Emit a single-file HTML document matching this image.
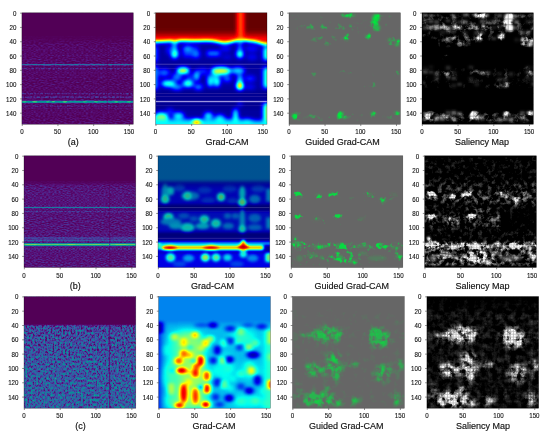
<!DOCTYPE html>
<html><head><meta charset="utf-8"><title>Grad-CAM figure</title>
<style>html,body{margin:0;padding:0;background:#fff}svg{display:block}text{font-family:"Liberation Sans",Arial,sans-serif;fill:#222}.t{font-size:7.2px;fill:#111;stroke:#111;stroke-width:0.12px}.l{font-size:9px;fill:#111;stroke:#111;stroke-width:0.15px}</style></head><body>
<svg width="550" height="438" viewBox="0 0 550 438">
<rect width="550" height="438" fill="#fff"/>
<defs>
<clipPath id="cp00"><rect x="0" y="0" width="156" height="156"/></clipPath>
<clipPath id="cp01"><rect x="0" y="0" width="156" height="156"/></clipPath>
<clipPath id="cp02"><rect x="0" y="0" width="156" height="156"/></clipPath>
<clipPath id="cp03"><rect x="0" y="0" width="156" height="156"/></clipPath>
<clipPath id="cp10"><rect x="0" y="0" width="156" height="156"/></clipPath>
<clipPath id="cp11"><rect x="0" y="0" width="156" height="156"/></clipPath>
<clipPath id="cp12"><rect x="0" y="0" width="156" height="156"/></clipPath>
<clipPath id="cp13"><rect x="0" y="0" width="156" height="156"/></clipPath>
<clipPath id="cp20"><rect x="0" y="0" width="156" height="156"/></clipPath>
<clipPath id="cp21"><rect x="0" y="0" width="156" height="156"/></clipPath>
<clipPath id="cp22"><rect x="0" y="0" width="156" height="156"/></clipPath>
<clipPath id="cp23"><rect x="0" y="0" width="156" height="156"/></clipPath>
</defs>
<g transform="translate(21.90,12.80) scale(0.7141,0.7145)" clip-path="url(#cp00)">
<filter id="sc00" filterUnits="userSpaceOnUse" x="0" y="0" width="156" height="156" color-interpolation-filters="sRGB"><feComponentTransfer><feFuncR type="table" tableValues="0.322 0.327 0.333 0.339 0.345 0.333 0.322 0.310 0.298 0.280 0.263 0.245 0.227 0.200 0.173 0.145 0.118 0.088 0.059 0.029 0.000 0.020 0.039 0.059 0.078 0.118 0.157 0.196 0.235 0.294 0.353 0.412 0.471 0.539 0.608 0.676 0.745 0.807 0.869 0.930 0.992"/><feFuncG type="table" tableValues="0.000 0.014 0.027 0.041 0.055 0.090 0.125 0.161 0.196 0.230 0.265 0.299 0.333 0.368 0.402 0.436 0.471 0.500 0.529 0.559 0.588 0.608 0.627 0.647 0.667 0.691 0.716 0.740 0.765 0.784 0.804 0.824 0.843 0.853 0.863 0.873 0.882 0.888 0.894 0.900 0.906"/><feFuncB type="table" tableValues="0.341 0.372 0.402 0.432 0.463 0.494 0.525 0.557 0.588 0.603 0.618 0.632 0.647 0.642 0.637 0.632 0.627 0.618 0.608 0.598 0.588 0.578 0.569 0.559 0.549 0.529 0.510 0.490 0.471 0.441 0.412 0.382 0.353 0.314 0.275 0.235 0.196 0.183 0.171 0.158 0.145"/></feComponentTransfer></filter><filter id="sn00" filterUnits="userSpaceOnUse" x="0" y="0" width="156" height="156" color-interpolation-filters="sRGB"><feTurbulence type="fractalNoise" baseFrequency="0.3 0.75" numOctaves="1" seed="3"/><feColorMatrix type="matrix" values="0.360 0 0 0 -0.130  0.360 0 0 0 -0.130  0.360 0 0 0 -0.130  0 0 0 0 1"/></filter><linearGradient id="sg00" gradientUnits="userSpaceOnUse" x1="0" y1="33.0" x2="0" y2="45.0"><stop offset="0" stop-color="#000" stop-opacity="1"/><stop offset="1" stop-color="#000" stop-opacity="0"/></linearGradient><g filter="url(#sc00)"><rect width="156" height="156" fill="#000"/><rect x="0" y="0" width="156" height="156" fill="#fff" filter="url(#sn00)"/><rect x="0" y="0" width="156" height="33.0" fill="#000"/><rect x="0" y="33.0" width="156" height="12.0" fill="url(#sg00)"/><rect x="0" y="71.80" width="156" height="1.60" fill="#fff" fill-opacity="0.22"/><path d="M-1.7,72.60H156" stroke="#fff" stroke-opacity="0.14" stroke-width="1.60" stroke-dasharray="4 1.2 6 1.5 2.5 1 7 1.3 3 1.6 5 1" fill="none"/><rect x="0" y="71.10" width="156" height="3.00" fill="#fff" fill-opacity="0.07"/><path d="M-5.1,78.40H156" stroke="#fff" stroke-opacity="0.20" stroke-width="1.50" stroke-dasharray="3 1.5 2 1 5 2 2.5 1.2 4 1.8" fill="none"/><path d="M-6.8,113.40H156" stroke="#fff" stroke-opacity="0.20" stroke-width="1.50" stroke-dasharray="3 1.5 2 1 5 2 2.5 1.2 4 1.8" fill="none"/><path d="M-8.5,118.00H156" stroke="#fff" stroke-opacity="0.22" stroke-width="1.50" stroke-dasharray="4 1.2 6 1.5 2.5 1 7 1.3 3 1.6 5 1" fill="none"/><rect x="0" y="123.30" width="156" height="2.60" fill="#fff" fill-opacity="0.40"/><rect x="0" y="122.40" width="156" height="4.40" fill="#fff" fill-opacity="0.14"/><path d="M-13.6,130.40H156" stroke="#fff" stroke-opacity="0.16" stroke-width="1.50" stroke-dasharray="3 1.5 2 1 5 2 2.5 1.2 4 1.8" fill="none"/><path d="M-15.3,60.00H156" stroke="#fff" stroke-opacity="0.08" stroke-width="1.20" stroke-dasharray="3 1.5 2 1 5 2 2.5 1.2 4 1.8" fill="none"/><path d="M-17.0,66.00H156" stroke="#fff" stroke-opacity="0.08" stroke-width="1.20" stroke-dasharray="4 1.2 6 1.5 2.5 1 7 1.3 3 1.6 5 1" fill="none"/><path d="M-18.7,84.00H156" stroke="#fff" stroke-opacity="0.07" stroke-width="1.20" stroke-dasharray="3 1.5 2 1 5 2 2.5 1.2 4 1.8" fill="none"/><path d="M-20.4,134.00H156" stroke="#fff" stroke-opacity="0.08" stroke-width="1.20" stroke-dasharray="4 1.2 6 1.5 2.5 1 7 1.3 3 1.6 5 1" fill="none"/><path d="M-22.1,52.00H156" stroke="#fff" stroke-opacity="0.06" stroke-width="1.20" stroke-dasharray="4 1.2 6 1.5 2.5 1 7 1.3 3 1.6 5 1" fill="none"/><path d="M-23.8,90.00H156" stroke="#fff" stroke-opacity="0.06" stroke-width="1.20" stroke-dasharray="3 1.5 2 1 5 2 2.5 1.2 4 1.8" fill="none"/><path d="M-25.5,140.00H156" stroke="#fff" stroke-opacity="0.06" stroke-width="1.20" stroke-dasharray="3 1.5 2 1 5 2 2.5 1.2 4 1.8" fill="none"/><ellipse cx="3.0" cy="124.6" rx="3.0" ry="1.2" fill="#fff" fill-opacity="0.30"/><ellipse cx="18.0" cy="124.6" rx="4.0" ry="1.2" fill="#fff" fill-opacity="0.45"/><ellipse cx="36.0" cy="124.6" rx="2.5" ry="1.2" fill="#fff" fill-opacity="0.30"/><ellipse cx="44.0" cy="124.6" rx="2.5" ry="1.2" fill="#fff" fill-opacity="0.35"/><ellipse cx="60.0" cy="124.6" rx="3.5" ry="1.2" fill="#fff" fill-opacity="0.45"/><ellipse cx="88.0" cy="124.6" rx="3.0" ry="1.2" fill="#fff" fill-opacity="0.30"/><ellipse cx="104.0" cy="124.6" rx="3.0" ry="1.2" fill="#fff" fill-opacity="0.30"/><ellipse cx="132.0" cy="124.6" rx="3.0" ry="1.2" fill="#fff" fill-opacity="0.35"/><ellipse cx="150.0" cy="124.6" rx="3.0" ry="1.2" fill="#fff" fill-opacity="0.30"/><rect x="118.9" y="33.0" width="1.3" height="123.0" fill="#000" fill-opacity="0.55"/></g>
</g>
<rect x="21.90" y="12.80" width="111.40" height="111.46" fill="none" stroke="#000" stroke-opacity="0.55" stroke-width="0.5"/>
<text class="t" transform="translate(16.40,15.76) scale(0.86,1)" text-anchor="end">0</text>
<text class="t" transform="translate(16.40,30.05) scale(0.86,1)" text-anchor="end">20</text>
<text class="t" transform="translate(16.40,44.34) scale(0.86,1)" text-anchor="end">40</text>
<text class="t" transform="translate(16.40,58.63) scale(0.86,1)" text-anchor="end">60</text>
<text class="t" transform="translate(16.40,72.92) scale(0.86,1)" text-anchor="end">80</text>
<text class="t" transform="translate(16.40,87.21) scale(0.86,1)" text-anchor="end">100</text>
<text class="t" transform="translate(16.40,101.50) scale(0.86,1)" text-anchor="end">120</text>
<text class="t" transform="translate(16.40,115.79) scale(0.86,1)" text-anchor="end">140</text>
<text class="t" transform="translate(21.86,134.26) scale(0.86,1)" text-anchor="middle">0</text>
<text class="t" transform="translate(57.56,134.26) scale(0.86,1)" text-anchor="middle">50</text>
<text class="t" transform="translate(93.27,134.26) scale(0.86,1)" text-anchor="middle">100</text>
<text class="t" transform="translate(128.97,134.26) scale(0.86,1)" text-anchor="middle">150</text>
<path d="M21.90 13.16h-1.8M21.90 27.45h-1.8M21.90 41.74h-1.8M21.90 56.03h-1.8M21.90 70.32h-1.8M21.90 84.61h-1.8M21.90 98.90h-1.8M21.90 113.19h-1.8M22.26 124.26v1.8M57.96 124.26v1.8M93.67 124.26v1.8M129.37 124.26v1.8" stroke="#222" stroke-width="0.5" fill="none"/>
<text class="l" x="67.80" y="145.26">(a)</text>
<g transform="translate(155.60,12.80) scale(0.7141,0.7145)" clip-path="url(#cp01)">
<linearGradient id="g01" gradientUnits="userSpaceOnUse" x1="0" y1="25" x2="0" y2="36"><stop offset="0" stop-color="rgb(255,255,255)"/><stop offset="0.5" stop-color="rgb(242,242,242)"/><stop offset="1" stop-color="rgb(224,224,224)"/></linearGradient><filter id="f01" filterUnits="userSpaceOnUse" x="-30" y="-30" width="216" height="216" color-interpolation-filters="sRGB"><feGaussianBlur stdDeviation="3.0"/><feComponentTransfer><feFuncR type="table" tableValues="0.000 0.000 0.000 0.000 0.000 0.000 0.000 0.000 0.000 0.000 0.000 0.000 0.000 0.000 0.000 0.000 0.000 0.000 0.000 0.000 0.000 0.000 0.000 0.000 0.000 0.062 0.125 0.188 0.250 0.312 0.375 0.438 0.500 0.562 0.625 0.688 0.750 0.812 0.875 0.938 1.000 1.000 1.000 1.000 1.000 1.000 1.000 1.000 1.000 1.000 1.000 1.000 1.000 1.000 1.000 1.000 1.000 0.997 0.911 0.826 0.741 0.656 0.570 0.485 0.400"/><feFuncG type="table" tableValues="0.000 0.000 0.000 0.000 0.000 0.000 0.000 0.000 0.000 0.062 0.125 0.188 0.250 0.312 0.375 0.438 0.500 0.562 0.625 0.688 0.750 0.812 0.875 0.938 1.000 1.000 1.000 1.000 1.000 1.000 1.000 1.000 1.000 1.000 1.000 1.000 1.000 1.000 1.000 1.000 1.000 0.938 0.875 0.812 0.750 0.688 0.625 0.562 0.500 0.438 0.375 0.312 0.250 0.188 0.125 0.062 0.000 0.000 0.000 0.000 0.000 0.000 0.000 0.000 0.000"/><feFuncB type="table" tableValues="0.500 0.562 0.625 0.688 0.750 0.812 0.875 0.938 1.000 1.000 1.000 1.000 1.000 1.000 1.000 1.000 1.000 1.000 1.000 1.000 1.000 1.000 1.000 1.000 1.000 0.938 0.875 0.812 0.750 0.688 0.625 0.562 0.500 0.438 0.375 0.312 0.250 0.188 0.125 0.062 0.000 0.000 0.000 0.000 0.000 0.000 0.000 0.000 0.000 0.000 0.000 0.000 0.000 0.000 0.000 0.000 0.000 0.000 0.000 0.000 0.000 0.000 0.000 0.000 0.000"/></feComponentTransfer></filter><g filter="url(#f01)"><rect x="-30" y="-30" width="216" height="216" fill="rgb(5,5,5)"/><rect x="-30.0" y="42.0" width="216.0" height="30.0" fill="rgb(8,8,8)"/><rect x="-30.0" y="74.0" width="216.0" height="34.0" fill="rgb(9,9,9)"/><rect x="-30.0" y="134.0" width="216.0" height="40.0" fill="rgb(8,8,8)"/><path d="M-30,-30H186V44.5 L156,44.5 150,43.5 140,40.5 128,39 122,38.5 119,41 116,38.5 112,39.5 104,41.5 96,42.5 90,41.5 80,39.5 70,39 60,39.5 50,39.5 40,39 30,39.5 27,42.5 24,39.5 14,40 6,40.5 0,40.5 -30,40.5Z" fill="url(#g01)"/><rect x="114.0" y="-30.0" width="10.0" height="64.0" fill="rgb(227,227,227)"/><rect x="116.5" y="-30.0" width="5.0" height="68.0" fill="rgb(188,188,188)"/><rect x="-5.0" y="46.0" width="7.0" height="22.0" fill="rgb(70,70,70)"/><ellipse cx="26.6" cy="50.0" rx="2.5" ry="10.0" fill="rgb(117,117,117)"/><ellipse cx="26.6" cy="57.5" rx="4.5" ry="5.5" fill="rgb(145,145,145)"/><rect x="38.0" y="47.0" width="22.0" height="15.0" fill="rgb(47,47,47)"/><ellipse cx="45.0" cy="50.0" rx="6.0" ry="4.0" fill="rgb(80,80,80)"/><ellipse cx="57.0" cy="58.0" rx="5.0" ry="5.0" fill="rgb(70,70,70)"/><ellipse cx="20.0" cy="52.0" rx="5.0" ry="6.0" fill="rgb(42,42,42)"/><rect x="72.0" y="54.0" width="18.0" height="6.0" fill="rgb(80,80,80)"/><ellipse cx="118.0" cy="57.5" rx="4.0" ry="5.0" fill="rgb(155,155,155)"/><ellipse cx="118.0" cy="49.0" rx="2.5" ry="7.0" fill="rgb(84,84,84)"/><rect x="151.0" y="48.0" width="14.0" height="18.0" fill="rgb(117,117,117)"/><ellipse cx="98.0" cy="50.0" rx="8.0" ry="4.0" fill="rgb(38,38,38)"/><ellipse cx="135.0" cy="50.0" rx="10.0" ry="4.0" fill="rgb(38,38,38)"/><ellipse cx="135.0" cy="62.0" rx="8.0" ry="4.0" fill="rgb(33,33,33)"/><ellipse cx="100.0" cy="62.0" rx="8.0" ry="3.0" fill="rgb(28,28,28)"/><ellipse cx="38.5" cy="81.0" rx="8.5" ry="3.6" fill="rgb(188,188,188)"/><ellipse cx="91.5" cy="81.5" rx="9.0" ry="3.4" fill="rgb(255,255,255)"/><ellipse cx="91.5" cy="81.5" rx="14.0" ry="5.0" fill="rgb(164,164,164)"/><ellipse cx="115.0" cy="81.0" rx="10.0" ry="4.0" fill="rgb(99,99,99)"/><rect x="151.0" y="77.0" width="14.0" height="28.0" fill="rgb(117,117,117)"/><ellipse cx="57.5" cy="88.0" rx="3.2" ry="7.0" fill="rgb(108,108,108)"/><ellipse cx="76.7" cy="96.0" rx="3.5" ry="7.0" fill="rgb(122,122,122)"/><ellipse cx="86.0" cy="96.0" rx="3.6" ry="7.0" fill="rgb(129,129,129)"/><ellipse cx="81.0" cy="90.0" rx="9.0" ry="3.5" fill="rgb(89,89,89)"/><ellipse cx="18.0" cy="99.0" rx="10.0" ry="4.0" fill="rgb(129,129,129)"/><ellipse cx="45.5" cy="99.0" rx="7.5" ry="4.5" fill="rgb(129,129,129)"/><ellipse cx="118.0" cy="96.0" rx="3.0" ry="10.0" fill="rgb(117,117,117)"/><ellipse cx="118.0" cy="102.5" rx="3.8" ry="4.4" fill="rgb(255,255,255)"/><rect x="-5.0" y="75.0" width="8.0" height="32.0" fill="rgb(75,75,75)"/><ellipse cx="30.0" cy="104.0" rx="8.0" ry="3.5" fill="rgb(80,80,80)"/><ellipse cx="60.0" cy="104.0" rx="6.0" ry="3.5" fill="rgb(80,80,80)"/><ellipse cx="30.0" cy="90.0" rx="7.0" ry="5.0" fill="rgb(70,70,70)"/><ellipse cx="12.0" cy="84.0" rx="8.0" ry="5.0" fill="rgb(61,61,61)"/><ellipse cx="100.0" cy="92.0" rx="6.0" ry="4.0" fill="rgb(66,66,66)"/><ellipse cx="132.0" cy="92.0" rx="8.0" ry="4.0" fill="rgb(47,47,47)"/><ellipse cx="66.0" cy="82.0" rx="8.0" ry="4.0" fill="rgb(47,47,47)"/><ellipse cx="48.0" cy="90.0" rx="5.0" ry="4.0" fill="rgb(47,47,47)"/><ellipse cx="132.0" cy="104.0" rx="8.0" ry="3.0" fill="rgb(38,38,38)"/><ellipse cx="8.0" cy="147.0" rx="10.0" ry="7.0" fill="rgb(136,136,136)"/><ellipse cx="32.0" cy="144.0" rx="8.0" ry="4.0" fill="rgb(108,108,108)"/><rect x="-5.0" y="149.0" width="125.0" height="15.0" fill="rgb(94,94,94)"/><ellipse cx="57.5" cy="153.0" rx="5.0" ry="3.0" fill="rgb(255,255,255)"/><ellipse cx="74.0" cy="144.0" rx="6.0" ry="4.0" fill="rgb(108,108,108)"/><ellipse cx="90.0" cy="148.0" rx="7.0" ry="5.0" fill="rgb(99,99,99)"/><ellipse cx="112.0" cy="145.0" rx="3.0" ry="11.0" fill="rgb(131,131,131)"/><ellipse cx="128.0" cy="153.0" rx="10.0" ry="3.5" fill="rgb(164,164,164)"/><rect x="151.0" y="127.0" width="14.0" height="36.0" fill="rgb(136,136,136)"/><ellipse cx="118.0" cy="128.0" rx="2.5" ry="2.5" fill="rgb(70,70,70)"/><rect x="100.0" y="151.0" width="60.0" height="10.0" fill="rgb(94,94,94)"/><ellipse cx="20.0" cy="138.0" rx="5.0" ry="4.0" fill="rgb(47,47,47)"/></g><rect x="0" y="71.3" width="156" height="1.3" fill="#b9a0e0" fill-opacity="0.38"/><rect x="0" y="77.5" width="156" height="1.1" fill="#8060c0" fill-opacity="0.25"/><rect x="0" y="112.4" width="156" height="1.2" fill="#8060c0" fill-opacity="0.30"/><rect x="0" y="116.4" width="156" height="1.2" fill="#8060c0" fill-opacity="0.30"/><rect x="0" y="122.8" width="156" height="2.8" fill="#9080e0" fill-opacity="0.35"/><rect x="0" y="123.5" width="156" height="1.4" fill="#e4dcff" fill-opacity="0.62"/><rect x="0" y="129.4" width="156" height="1.2" fill="#8060c0" fill-opacity="0.25"/>
</g>
<rect x="155.60" y="12.80" width="111.40" height="111.46" fill="none" stroke="#000" stroke-opacity="0.55" stroke-width="0.5"/>
<text class="t" transform="translate(150.10,15.76) scale(0.86,1)" text-anchor="end">0</text>
<text class="t" transform="translate(150.10,30.05) scale(0.86,1)" text-anchor="end">20</text>
<text class="t" transform="translate(150.10,44.34) scale(0.86,1)" text-anchor="end">40</text>
<text class="t" transform="translate(150.10,58.63) scale(0.86,1)" text-anchor="end">60</text>
<text class="t" transform="translate(150.10,72.92) scale(0.86,1)" text-anchor="end">80</text>
<text class="t" transform="translate(150.10,87.21) scale(0.86,1)" text-anchor="end">100</text>
<text class="t" transform="translate(150.10,101.50) scale(0.86,1)" text-anchor="end">120</text>
<text class="t" transform="translate(150.10,115.79) scale(0.86,1)" text-anchor="end">140</text>
<text class="t" transform="translate(155.56,134.26) scale(0.86,1)" text-anchor="middle">0</text>
<text class="t" transform="translate(191.26,134.26) scale(0.86,1)" text-anchor="middle">50</text>
<text class="t" transform="translate(226.97,134.26) scale(0.86,1)" text-anchor="middle">100</text>
<text class="t" transform="translate(262.67,134.26) scale(0.86,1)" text-anchor="middle">150</text>
<path d="M155.60 13.16h-1.8M155.60 27.45h-1.8M155.60 41.74h-1.8M155.60 56.03h-1.8M155.60 70.32h-1.8M155.60 84.61h-1.8M155.60 98.90h-1.8M155.60 113.19h-1.8M155.96 124.26v1.8M191.66 124.26v1.8M227.37 124.26v1.8M263.07 124.26v1.8" stroke="#222" stroke-width="0.5" fill="none"/>
<text class="l" x="205.40" y="145.26">Grad-CAM</text>
<g transform="translate(289.00,12.80) scale(0.7141,0.7145)" clip-path="url(#cp02)">
<filter id="sfg0" filterUnits="userSpaceOnUse" x="0" y="0" width="156" height="156" color-interpolation-filters="sRGB"><feTurbulence type="fractalNoise" baseFrequency="0.12 0.12" numOctaves="4" seed="5" result="n"/><feColorMatrix in="n" type="matrix" values="1 0 0 0 0 1 0 0 0 0 1 0 0 0 0 0 0 0 0 1" result="ng"/><feGaussianBlur in="SourceGraphic" stdDeviation="2.2"/><feComponentTransfer result="e"><feFuncR type="gamma" exponent="1.3"/><feFuncG type="gamma" exponent="1.3"/><feFuncB type="gamma" exponent="1.3"/></feComponentTransfer><feComposite in="e" in2="ng" operator="arithmetic" k1="5.000" k2="-1.800" k3="0" k4="0" result="o"/><feComponentTransfer in="o"><feFuncR type="linear" slope="1.300" intercept="-0.286"/><feFuncG type="linear" slope="1.300" intercept="-0.286"/><feFuncB type="linear" slope="1.300" intercept="-0.286"/></feComponentTransfer><feColorMatrix type="matrix" values="-0.4 0 0 0 0.4  0 0.5 0 0 0.4  0 0 -0.15 0 0.4  0 0 0 0 1"/></filter><g filter="url(#sfg0)"><rect x="-30" y="-30" width="216" height="216" fill="rgb(5,5,5)"/><rect x="-8.1" y="75.3" width="172.0" height="31.4" fill="rgb(35,35,35)"/><rect x="-8.1" y="43.9" width="172.0" height="29.6" fill="rgb(18,18,18)"/><rect x="-8.1" y="1.0" width="123.3" height="39.2" fill="rgb(48,48,48)"/><rect x="-8.1" y="1.0" width="172.0" height="24.4" fill="rgb(55,55,55)"/><rect x="-8.1" y="139.3" width="172.0" height="14.8" fill="rgb(66,66,66)"/><ellipse cx="141.5" cy="16.9" rx="14.4" ry="15.9" fill="rgb(61,61,61)"/><ellipse cx="52.4" cy="39.3" rx="24.0" ry="8.3" fill="rgb(77,77,77)"/><rect x="24.7" y="17.3" width="85.0" height="5.9" fill="rgb(121,121,121)"/><ellipse cx="121.5" cy="13.6" rx="5.5" ry="13.3" fill="rgb(255,255,255)"/><ellipse cx="147.0" cy="39.8" rx="9.6" ry="7.0" fill="rgb(136,136,136)"/><ellipse cx="24.1" cy="12.1" rx="22.7" ry="3.0" fill="rgb(88,88,88)"/><ellipse cx="82.0" cy="83.1" rx="15.5" ry="3.7" fill="rgb(99,99,99)"/><ellipse cx="118.6" cy="94.9" rx="4.8" ry="11.8" fill="rgb(88,88,88)"/><ellipse cx="150.4" cy="82.3" rx="6.3" ry="6.7" fill="rgb(110,110,110)"/><ellipse cx="105.6" cy="103.0" rx="14.0" ry="3.0" fill="rgb(88,88,88)"/><ellipse cx="33.5" cy="84.9" rx="12.2" ry="3.3" fill="rgb(99,99,99)"/><ellipse cx="83.8" cy="3.2" rx="11.1" ry="3.0" fill="rgb(164,164,164)"/><ellipse cx="10.6" cy="144.1" rx="5.5" ry="5.5" fill="rgb(255,255,255)"/><ellipse cx="10.6" cy="12.1" rx="9.2" ry="3.0" fill="rgb(132,132,132)"/><ellipse cx="93.0" cy="146.3" rx="8.1" ry="3.3" fill="rgb(110,110,110)"/><ellipse cx="73.5" cy="143.3" rx="5.5" ry="4.8" fill="rgb(255,255,255)"/><ellipse cx="135.2" cy="145.5" rx="9.6" ry="2.6" fill="rgb(99,99,99)"/><ellipse cx="31.7" cy="60.5" rx="6.7" ry="3.3" fill="rgb(61,61,61)"/><ellipse cx="28.4" cy="43.9" rx="7.0" ry="3.0" fill="rgb(110,110,110)"/><ellipse cx="122.3" cy="5.8" rx="4.1" ry="4.8" fill="rgb(255,255,255)"/><ellipse cx="80.5" cy="35.0" rx="3.7" ry="5.2" fill="rgb(217,217,217)"/><ellipse cx="123.0" cy="20.8" rx="4.1" ry="4.6" fill="rgb(255,255,255)"/><ellipse cx="33.9" cy="144.4" rx="4.4" ry="3.7" fill="rgb(110,110,110)"/><ellipse cx="117.1" cy="141.5" rx="4.8" ry="3.0" fill="rgb(255,255,255)"/><ellipse cx="150.4" cy="140.0" rx="4.8" ry="3.0" fill="rgb(230,230,230)"/><ellipse cx="111.2" cy="32.8" rx="4.8" ry="3.0" fill="rgb(242,242,242)"/><ellipse cx="57.0" cy="40.2" rx="4.6" ry="3.0" fill="rgb(99,99,99)"/></g><g filter="url(#hb0)"><ellipse cx="121.0" cy="7.5" rx="4.7" ry="5.5" fill="#00e63c" fill-opacity="0.60"/><ellipse cx="124.0" cy="9.0" rx="3.0" ry="3.4" fill="#00e63c" fill-opacity="0.57"/><ellipse cx="123.0" cy="21.0" rx="4.7" ry="4.2" fill="#00e63c" fill-opacity="0.60"/><ellipse cx="120.5" cy="14.0" rx="3.0" ry="5.1" fill="#00e63c" fill-opacity="0.54"/><ellipse cx="110.5" cy="33.0" rx="3.8" ry="1.5" fill="#00e63c" fill-opacity="0.57"/><ellipse cx="141.0" cy="38.0" rx="1.5" ry="2.2" fill="#00e63c" fill-opacity="0.51"/><ellipse cx="151.5" cy="45.0" rx="2.7" ry="1.5" fill="#00e63c" fill-opacity="0.54"/><ellipse cx="80.0" cy="33.0" rx="1.7" ry="1.7" fill="#00e63c" fill-opacity="0.48"/><ellipse cx="81.0" cy="38.0" rx="1.5" ry="1.5" fill="#00e63c" fill-opacity="0.42"/><ellipse cx="10.5" cy="142.0" rx="2.5" ry="2.1" fill="#00e63c" fill-opacity="0.57"/><ellipse cx="8.0" cy="147.0" rx="2.1" ry="1.7" fill="#00e63c" fill-opacity="0.48"/><ellipse cx="74.0" cy="141.0" rx="2.5" ry="2.1" fill="#00e63c" fill-opacity="0.57"/><ellipse cx="72.0" cy="145.5" rx="2.5" ry="1.7" fill="#00e63c" fill-opacity="0.51"/><ellipse cx="117.0" cy="141.0" rx="2.5" ry="1.9" fill="#00e63c" fill-opacity="0.57"/><ellipse cx="150.0" cy="140.0" rx="2.5" ry="1.7" fill="#00e63c" fill-opacity="0.51"/><ellipse cx="151.0" cy="44.0" rx="2.1" ry="2.1" fill="#00e63c" fill-opacity="0.48"/><ellipse cx="75.0" cy="3.0" rx="2.1" ry="1.5" fill="#00e63c" fill-opacity="0.42"/><ellipse cx="91.0" cy="3.5" rx="2.1" ry="1.5" fill="#00e63c" fill-opacity="0.42"/><ellipse cx="140.0" cy="38.0" rx="1.7" ry="1.7" fill="#00e63c" fill-opacity="0.36"/></g>
</g>
<rect x="289.00" y="12.80" width="111.40" height="111.46" fill="none" stroke="#000" stroke-opacity="0.55" stroke-width="0.5"/>
<text class="t" transform="translate(283.50,15.76) scale(0.86,1)" text-anchor="end">0</text>
<text class="t" transform="translate(283.50,30.05) scale(0.86,1)" text-anchor="end">20</text>
<text class="t" transform="translate(283.50,44.34) scale(0.86,1)" text-anchor="end">40</text>
<text class="t" transform="translate(283.50,58.63) scale(0.86,1)" text-anchor="end">60</text>
<text class="t" transform="translate(283.50,72.92) scale(0.86,1)" text-anchor="end">80</text>
<text class="t" transform="translate(283.50,87.21) scale(0.86,1)" text-anchor="end">100</text>
<text class="t" transform="translate(283.50,101.50) scale(0.86,1)" text-anchor="end">120</text>
<text class="t" transform="translate(283.50,115.79) scale(0.86,1)" text-anchor="end">140</text>
<text class="t" transform="translate(288.96,134.26) scale(0.86,1)" text-anchor="middle">0</text>
<text class="t" transform="translate(324.66,134.26) scale(0.86,1)" text-anchor="middle">50</text>
<text class="t" transform="translate(360.37,134.26) scale(0.86,1)" text-anchor="middle">100</text>
<text class="t" transform="translate(396.07,134.26) scale(0.86,1)" text-anchor="middle">150</text>
<path d="M289.00 13.16h-1.8M289.00 27.45h-1.8M289.00 41.74h-1.8M289.00 56.03h-1.8M289.00 70.32h-1.8M289.00 84.61h-1.8M289.00 98.90h-1.8M289.00 113.19h-1.8M289.36 124.26v1.8M325.06 124.26v1.8M360.77 124.26v1.8M396.47 124.26v1.8" stroke="#222" stroke-width="0.5" fill="none"/>
<text class="l" x="305.20" y="145.26">Guided Grad-CAM</text>
<g transform="translate(422.00,12.80) scale(0.7141,0.7145)" clip-path="url(#cp03)">
<filter id="sfs0" filterUnits="userSpaceOnUse" x="0" y="0" width="156" height="156" color-interpolation-filters="sRGB"><feTurbulence type="fractalNoise" baseFrequency="0.12 0.12" numOctaves="4" seed="5" result="n"/><feColorMatrix in="n" type="matrix" values="1 0 0 0 0 1 0 0 0 0 1 0 0 0 0 0 0 0 0 1" result="ng"/><feGaussianBlur in="SourceGraphic" stdDeviation="2.2"/><feComponentTransfer result="e"><feFuncR type="gamma" exponent="1.3"/><feFuncG type="gamma" exponent="1.3"/><feFuncB type="gamma" exponent="1.3"/></feComponentTransfer><feComposite in="e" in2="ng" operator="arithmetic" k1="5.000" k2="-1.800" k3="0" k4="0" result="o"/><feComponentTransfer in="o"><feFuncR type="linear" slope="1.50" intercept="-0.12"/><feFuncG type="linear" slope="1.50" intercept="-0.12"/><feFuncB type="linear" slope="1.50" intercept="-0.12"/></feComponentTransfer></filter><g filter="url(#sfs0)"><rect x="-30" y="-30" width="216" height="216" fill="rgb(5,5,5)"/><rect x="-8.1" y="75.3" width="172.0" height="31.4" fill="rgb(35,35,35)"/><rect x="-8.1" y="43.9" width="172.0" height="29.6" fill="rgb(18,18,18)"/><rect x="-8.1" y="1.0" width="123.3" height="39.2" fill="rgb(48,48,48)"/><rect x="-8.1" y="1.0" width="172.0" height="24.4" fill="rgb(55,55,55)"/><rect x="-8.1" y="139.3" width="172.0" height="14.8" fill="rgb(66,66,66)"/><ellipse cx="141.5" cy="16.9" rx="14.4" ry="15.9" fill="rgb(61,61,61)"/><ellipse cx="52.4" cy="39.3" rx="24.0" ry="8.3" fill="rgb(77,77,77)"/><rect x="24.7" y="17.3" width="85.0" height="5.9" fill="rgb(121,121,121)"/><ellipse cx="121.5" cy="13.6" rx="5.5" ry="13.3" fill="rgb(255,255,255)"/><ellipse cx="147.0" cy="39.8" rx="9.6" ry="7.0" fill="rgb(136,136,136)"/><ellipse cx="24.1" cy="12.1" rx="22.7" ry="3.0" fill="rgb(88,88,88)"/><ellipse cx="82.0" cy="83.1" rx="15.5" ry="3.7" fill="rgb(99,99,99)"/><ellipse cx="118.6" cy="94.9" rx="4.8" ry="11.8" fill="rgb(88,88,88)"/><ellipse cx="150.4" cy="82.3" rx="6.3" ry="6.7" fill="rgb(110,110,110)"/><ellipse cx="105.6" cy="103.0" rx="14.0" ry="3.0" fill="rgb(88,88,88)"/><ellipse cx="33.5" cy="84.9" rx="12.2" ry="3.3" fill="rgb(99,99,99)"/><ellipse cx="83.8" cy="3.2" rx="11.1" ry="3.0" fill="rgb(164,164,164)"/><ellipse cx="10.6" cy="144.1" rx="5.5" ry="5.5" fill="rgb(255,255,255)"/><ellipse cx="10.6" cy="12.1" rx="9.2" ry="3.0" fill="rgb(132,132,132)"/><ellipse cx="93.0" cy="146.3" rx="8.1" ry="3.3" fill="rgb(110,110,110)"/><ellipse cx="73.5" cy="143.3" rx="5.5" ry="4.8" fill="rgb(255,255,255)"/><ellipse cx="135.2" cy="145.5" rx="9.6" ry="2.6" fill="rgb(99,99,99)"/><ellipse cx="31.7" cy="60.5" rx="6.7" ry="3.3" fill="rgb(61,61,61)"/><ellipse cx="28.4" cy="43.9" rx="7.0" ry="3.0" fill="rgb(110,110,110)"/><ellipse cx="122.3" cy="5.8" rx="4.1" ry="4.8" fill="rgb(255,255,255)"/><ellipse cx="80.5" cy="35.0" rx="3.7" ry="5.2" fill="rgb(217,217,217)"/><ellipse cx="123.0" cy="20.8" rx="4.1" ry="4.6" fill="rgb(255,255,255)"/><ellipse cx="33.9" cy="144.4" rx="4.4" ry="3.7" fill="rgb(110,110,110)"/><ellipse cx="117.1" cy="141.5" rx="4.8" ry="3.0" fill="rgb(255,255,255)"/><ellipse cx="150.4" cy="140.0" rx="4.8" ry="3.0" fill="rgb(230,230,230)"/><ellipse cx="111.2" cy="32.8" rx="4.8" ry="3.0" fill="rgb(242,242,242)"/><ellipse cx="57.0" cy="40.2" rx="4.6" ry="3.0" fill="rgb(99,99,99)"/></g><filter id="cb0" filterUnits="userSpaceOnUse" x="-10" y="-10" width="176" height="176"><feGaussianBlur stdDeviation="1.2"/></filter><g filter="url(#cb0)"><rect x="1" y="2" width="7" height="5" fill="#fff" fill-opacity="0.09"/><rect x="9" y="2" width="7" height="4" fill="#fff" fill-opacity="0.09"/><rect x="41" y="2" width="7" height="6" fill="#fff" fill-opacity="0.21"/><rect x="57" y="1" width="7" height="4" fill="#fff" fill-opacity="0.37"/><rect x="81" y="3" width="7" height="4" fill="#fff" fill-opacity="0.14"/><rect x="105" y="2" width="7" height="4" fill="#fff" fill-opacity="0.33"/><rect x="113" y="1" width="7" height="5" fill="#fff" fill-opacity="0.12"/><rect x="121" y="3" width="7" height="5" fill="#fff" fill-opacity="0.37"/><rect x="129" y="3" width="7" height="5" fill="#fff" fill-opacity="0.13"/><rect x="153" y="2" width="7" height="5" fill="#fff" fill-opacity="0.23"/><rect x="1" y="9" width="7" height="6" fill="#fff" fill-opacity="0.17"/><rect x="9" y="10" width="7" height="4" fill="#fff" fill-opacity="0.30"/><rect x="17" y="10" width="7" height="6" fill="#fff" fill-opacity="0.23"/><rect x="33" y="9" width="7" height="4" fill="#fff" fill-opacity="0.21"/><rect x="49" y="11" width="7" height="4" fill="#fff" fill-opacity="0.18"/><rect x="57" y="10" width="7" height="6" fill="#fff" fill-opacity="0.27"/><rect x="81" y="9" width="7" height="6" fill="#fff" fill-opacity="0.28"/><rect x="89" y="10" width="7" height="6" fill="#fff" fill-opacity="0.13"/><rect x="97" y="10" width="7" height="4" fill="#fff" fill-opacity="0.33"/><rect x="113" y="10" width="7" height="6" fill="#fff" fill-opacity="0.17"/><rect x="129" y="11" width="7" height="4" fill="#fff" fill-opacity="0.47"/><rect x="145" y="10" width="7" height="5" fill="#fff" fill-opacity="0.13"/><rect x="153" y="9" width="7" height="5" fill="#fff" fill-opacity="0.19"/><rect x="1" y="18" width="7" height="6" fill="#fff" fill-opacity="0.20"/><rect x="9" y="18" width="7" height="4" fill="#fff" fill-opacity="0.42"/><rect x="17" y="18" width="7" height="6" fill="#fff" fill-opacity="0.54"/><rect x="25" y="19" width="7" height="6" fill="#fff" fill-opacity="0.11"/><rect x="33" y="19" width="7" height="6" fill="#fff" fill-opacity="0.53"/><rect x="41" y="18" width="7" height="6" fill="#fff" fill-opacity="0.30"/><rect x="49" y="18" width="7" height="4" fill="#fff" fill-opacity="0.27"/><rect x="65" y="18" width="7" height="5" fill="#fff" fill-opacity="0.15"/><rect x="73" y="17" width="7" height="4" fill="#fff" fill-opacity="0.22"/><rect x="97" y="18" width="7" height="5" fill="#fff" fill-opacity="0.10"/><rect x="105" y="17" width="7" height="5" fill="#fff" fill-opacity="0.14"/><rect x="121" y="18" width="7" height="4" fill="#fff" fill-opacity="0.11"/><rect x="129" y="19" width="7" height="4" fill="#fff" fill-opacity="0.29"/><rect x="153" y="18" width="7" height="6" fill="#fff" fill-opacity="0.21"/><rect x="25" y="26" width="7" height="4" fill="#fff" fill-opacity="0.12"/><rect x="33" y="25" width="7" height="4" fill="#fff" fill-opacity="0.14"/><rect x="57" y="26" width="7" height="6" fill="#fff" fill-opacity="0.13"/><rect x="73" y="25" width="7" height="6" fill="#fff" fill-opacity="0.19"/><rect x="81" y="26" width="7" height="4" fill="#fff" fill-opacity="0.19"/><rect x="137" y="25" width="7" height="6" fill="#fff" fill-opacity="0.24"/><rect x="145" y="25" width="7" height="5" fill="#fff" fill-opacity="0.26"/><rect x="97" y="34" width="7" height="4" fill="#fff" fill-opacity="0.20"/><rect x="129" y="35" width="7" height="6" fill="#fff" fill-opacity="0.08"/><rect x="1" y="75" width="7" height="6" fill="#fff" fill-opacity="0.06"/><rect x="9" y="73" width="7" height="6" fill="#fff" fill-opacity="0.06"/><rect x="33" y="74" width="7" height="6" fill="#fff" fill-opacity="0.15"/><rect x="65" y="74" width="7" height="4" fill="#fff" fill-opacity="0.14"/><rect x="145" y="74" width="7" height="6" fill="#fff" fill-opacity="0.09"/><rect x="153" y="74" width="7" height="5" fill="#fff" fill-opacity="0.05"/><rect x="1" y="81" width="7" height="4" fill="#fff" fill-opacity="0.29"/><rect x="9" y="81" width="7" height="4" fill="#fff" fill-opacity="0.19"/><rect x="17" y="83" width="7" height="5" fill="#fff" fill-opacity="0.23"/><rect x="41" y="81" width="7" height="6" fill="#fff" fill-opacity="0.10"/><rect x="81" y="82" width="7" height="4" fill="#fff" fill-opacity="0.27"/><rect x="89" y="82" width="7" height="4" fill="#fff" fill-opacity="0.25"/><rect x="105" y="83" width="7" height="5" fill="#fff" fill-opacity="0.09"/><rect x="121" y="83" width="7" height="6" fill="#fff" fill-opacity="0.13"/><rect x="145" y="81" width="7" height="4" fill="#fff" fill-opacity="0.28"/><rect x="17" y="89" width="7" height="5" fill="#fff" fill-opacity="0.14"/><rect x="33" y="89" width="7" height="4" fill="#fff" fill-opacity="0.08"/><rect x="41" y="89" width="7" height="5" fill="#fff" fill-opacity="0.21"/><rect x="65" y="90" width="7" height="4" fill="#fff" fill-opacity="0.13"/><rect x="105" y="91" width="7" height="4" fill="#fff" fill-opacity="0.14"/><rect x="113" y="91" width="7" height="5" fill="#fff" fill-opacity="0.17"/><rect x="145" y="89" width="7" height="5" fill="#fff" fill-opacity="0.11"/><rect x="153" y="91" width="7" height="4" fill="#fff" fill-opacity="0.16"/><rect x="41" y="99" width="7" height="6" fill="#fff" fill-opacity="0.10"/><rect x="49" y="98" width="7" height="4" fill="#fff" fill-opacity="0.19"/><rect x="73" y="97" width="7" height="6" fill="#fff" fill-opacity="0.09"/><rect x="113" y="97" width="7" height="5" fill="#fff" fill-opacity="0.17"/><rect x="153" y="97" width="7" height="5" fill="#fff" fill-opacity="0.20"/><rect x="1" y="138" width="7" height="4" fill="#fff" fill-opacity="0.10"/><rect x="33" y="137" width="7" height="6" fill="#fff" fill-opacity="0.21"/><rect x="41" y="137" width="7" height="6" fill="#fff" fill-opacity="0.38"/><rect x="49" y="139" width="7" height="5" fill="#fff" fill-opacity="0.35"/><rect x="73" y="138" width="7" height="6" fill="#fff" fill-opacity="0.12"/><rect x="137" y="138" width="7" height="4" fill="#fff" fill-opacity="0.33"/><rect x="145" y="138" width="7" height="4" fill="#fff" fill-opacity="0.12"/><rect x="153" y="138" width="7" height="5" fill="#fff" fill-opacity="0.27"/><rect x="1" y="145" width="7" height="5" fill="#fff" fill-opacity="0.11"/><rect x="17" y="145" width="7" height="6" fill="#fff" fill-opacity="0.48"/><rect x="25" y="145" width="7" height="6" fill="#fff" fill-opacity="0.41"/><rect x="33" y="147" width="7" height="4" fill="#fff" fill-opacity="0.10"/><rect x="41" y="147" width="7" height="4" fill="#fff" fill-opacity="0.40"/><rect x="73" y="147" width="7" height="4" fill="#fff" fill-opacity="0.13"/><rect x="81" y="146" width="7" height="5" fill="#fff" fill-opacity="0.23"/><rect x="105" y="147" width="7" height="6" fill="#fff" fill-opacity="0.35"/><rect x="113" y="147" width="7" height="4" fill="#fff" fill-opacity="0.42"/><rect x="121" y="147" width="7" height="5" fill="#fff" fill-opacity="0.44"/><rect x="137" y="146" width="7" height="6" fill="#fff" fill-opacity="0.15"/></g><filter id="hb0" filterUnits="userSpaceOnUse" x="-10" y="-10" width="176" height="176"><feGaussianBlur stdDeviation="1.2"/></filter><g filter="url(#hb0)"><ellipse cx="121.0" cy="7.5" rx="5.5" ry="6.5" fill="#fff" fill-opacity="1.00"/><ellipse cx="124.0" cy="9.0" rx="3.5" ry="4.0" fill="#fff" fill-opacity="0.95"/><ellipse cx="123.0" cy="21.0" rx="5.5" ry="5.0" fill="#fff" fill-opacity="1.00"/><ellipse cx="120.5" cy="14.0" rx="3.5" ry="6.0" fill="#fff" fill-opacity="0.90"/><ellipse cx="110.5" cy="33.0" rx="4.5" ry="1.8" fill="#fff" fill-opacity="0.95"/><ellipse cx="141.0" cy="38.0" rx="1.8" ry="2.6" fill="#fff" fill-opacity="0.85"/><ellipse cx="151.5" cy="45.0" rx="3.2" ry="1.8" fill="#fff" fill-opacity="0.90"/><ellipse cx="80.0" cy="33.0" rx="2.0" ry="2.0" fill="#fff" fill-opacity="0.80"/><ellipse cx="81.0" cy="38.0" rx="1.8" ry="1.8" fill="#fff" fill-opacity="0.70"/><ellipse cx="10.5" cy="142.0" rx="3.0" ry="2.5" fill="#fff" fill-opacity="0.95"/><ellipse cx="8.0" cy="147.0" rx="2.5" ry="2.0" fill="#fff" fill-opacity="0.80"/><ellipse cx="74.0" cy="141.0" rx="3.0" ry="2.5" fill="#fff" fill-opacity="0.95"/><ellipse cx="72.0" cy="145.5" rx="3.0" ry="2.0" fill="#fff" fill-opacity="0.85"/><ellipse cx="117.0" cy="141.0" rx="3.0" ry="2.2" fill="#fff" fill-opacity="0.95"/><ellipse cx="150.0" cy="140.0" rx="3.0" ry="2.0" fill="#fff" fill-opacity="0.85"/><ellipse cx="151.0" cy="44.0" rx="2.5" ry="2.5" fill="#fff" fill-opacity="0.80"/><ellipse cx="75.0" cy="3.0" rx="2.5" ry="1.8" fill="#fff" fill-opacity="0.70"/><ellipse cx="91.0" cy="3.5" rx="2.5" ry="1.8" fill="#fff" fill-opacity="0.70"/><ellipse cx="140.0" cy="38.0" rx="2.0" ry="2.0" fill="#fff" fill-opacity="0.60"/></g><pattern id="gps0" patternUnits="userSpaceOnUse" width="8" height="8"><path d="M0,0H8M0,0V8" stroke="#000" stroke-width="2.0" fill="none"/></pattern><rect width="156" height="156" fill="url(#gps0)" fill-opacity="0.4"/>
</g>
<rect x="422.00" y="12.80" width="111.40" height="111.46" fill="none" stroke="#000" stroke-opacity="0.55" stroke-width="0.5"/>
<text class="t" transform="translate(416.50,15.76) scale(0.86,1)" text-anchor="end">0</text>
<text class="t" transform="translate(416.50,30.05) scale(0.86,1)" text-anchor="end">20</text>
<text class="t" transform="translate(416.50,44.34) scale(0.86,1)" text-anchor="end">40</text>
<text class="t" transform="translate(416.50,58.63) scale(0.86,1)" text-anchor="end">60</text>
<text class="t" transform="translate(416.50,72.92) scale(0.86,1)" text-anchor="end">80</text>
<text class="t" transform="translate(416.50,87.21) scale(0.86,1)" text-anchor="end">100</text>
<text class="t" transform="translate(416.50,101.50) scale(0.86,1)" text-anchor="end">120</text>
<text class="t" transform="translate(416.50,115.79) scale(0.86,1)" text-anchor="end">140</text>
<text class="t" transform="translate(421.96,134.26) scale(0.86,1)" text-anchor="middle">0</text>
<text class="t" transform="translate(457.66,134.26) scale(0.86,1)" text-anchor="middle">50</text>
<text class="t" transform="translate(493.37,134.26) scale(0.86,1)" text-anchor="middle">100</text>
<text class="t" transform="translate(529.07,134.26) scale(0.86,1)" text-anchor="middle">150</text>
<path d="M422.00 13.16h-1.8M422.00 27.45h-1.8M422.00 41.74h-1.8M422.00 56.03h-1.8M422.00 70.32h-1.8M422.00 84.61h-1.8M422.00 98.90h-1.8M422.00 113.19h-1.8M422.36 124.26v1.8M458.06 124.26v1.8M493.77 124.26v1.8M529.47 124.26v1.8" stroke="#222" stroke-width="0.5" fill="none"/>
<text class="l" x="455.00" y="145.26">Saliency Map</text>
<g transform="translate(24.00,155.80) scale(0.7167,0.7160)" clip-path="url(#cp10)">
<filter id="sc10" filterUnits="userSpaceOnUse" x="0" y="0" width="156" height="156" color-interpolation-filters="sRGB"><feComponentTransfer><feFuncR type="table" tableValues="0.322 0.327 0.333 0.339 0.345 0.333 0.322 0.310 0.298 0.280 0.263 0.245 0.227 0.200 0.173 0.145 0.118 0.088 0.059 0.029 0.000 0.020 0.039 0.059 0.078 0.118 0.157 0.196 0.235 0.294 0.353 0.412 0.471 0.539 0.608 0.676 0.745 0.807 0.869 0.930 0.992"/><feFuncG type="table" tableValues="0.000 0.014 0.027 0.041 0.055 0.090 0.125 0.161 0.196 0.230 0.265 0.299 0.333 0.368 0.402 0.436 0.471 0.500 0.529 0.559 0.588 0.608 0.627 0.647 0.667 0.691 0.716 0.740 0.765 0.784 0.804 0.824 0.843 0.853 0.863 0.873 0.882 0.888 0.894 0.900 0.906"/><feFuncB type="table" tableValues="0.341 0.372 0.402 0.432 0.463 0.494 0.525 0.557 0.588 0.603 0.618 0.632 0.647 0.642 0.637 0.632 0.627 0.618 0.608 0.598 0.588 0.578 0.569 0.559 0.549 0.529 0.510 0.490 0.471 0.441 0.412 0.382 0.353 0.314 0.275 0.235 0.196 0.183 0.171 0.158 0.145"/></feComponentTransfer></filter><filter id="sn10" filterUnits="userSpaceOnUse" x="0" y="0" width="156" height="156" color-interpolation-filters="sRGB"><feTurbulence type="fractalNoise" baseFrequency="0.35 0.7" numOctaves="1" seed="7"/><feColorMatrix type="matrix" values="0.400 0 0 0 -0.090  0.400 0 0 0 -0.090  0.400 0 0 0 -0.090  0 0 0 0 1"/></filter><linearGradient id="sg10" gradientUnits="userSpaceOnUse" x1="0" y1="36.0" x2="0" y2="42.0"><stop offset="0" stop-color="#000" stop-opacity="1"/><stop offset="1" stop-color="#000" stop-opacity="0"/></linearGradient><g filter="url(#sc10)"><rect width="156" height="156" fill="#000"/><rect x="0" y="0" width="156" height="156" fill="#fff" filter="url(#sn10)"/><rect x="0" y="0" width="156" height="36.0" fill="#000"/><rect x="0" y="36.0" width="156" height="6.0" fill="url(#sg10)"/><rect x="0" y="71.45" width="156" height="1.50" fill="#fff" fill-opacity="0.30"/><rect x="0" y="70.70" width="156" height="3.00" fill="#fff" fill-opacity="0.06"/><path d="M-3.4,78.00H156" stroke="#fff" stroke-opacity="0.12" stroke-width="1.60" stroke-dasharray="4 1.2 6 1.5 2.5 1 7 1.3 3 1.6 5 1" fill="none"/><rect x="0" y="114.25" width="156" height="5.50" fill="#fff" fill-opacity="0.10"/><rect x="0" y="113.80" width="156" height="1.60" fill="#fff" fill-opacity="0.12"/><path d="M-8.5,118.40H156" stroke="#fff" stroke-opacity="0.14" stroke-width="1.60" stroke-dasharray="4 1.2 6 1.5 2.5 1 7 1.3 3 1.6 5 1" fill="none"/><rect x="0" y="122.80" width="156" height="2.40" fill="#fff" fill-opacity="0.62"/><rect x="0" y="121.70" width="156" height="4.60" fill="#fff" fill-opacity="0.25"/><path d="M-13.6,130.00H156" stroke="#fff" stroke-opacity="0.10" stroke-width="1.50" stroke-dasharray="3 1.5 2 1 5 2 2.5 1.2 4 1.8" fill="none"/><ellipse cx="10.0" cy="124.0" rx="8.0" ry="1.1" fill="#fff" fill-opacity="0.20"/><ellipse cx="66.0" cy="124.0" rx="6.0" ry="1.1" fill="#fff" fill-opacity="0.25"/><ellipse cx="100.0" cy="124.0" rx="8.0" ry="1.1" fill="#fff" fill-opacity="0.15"/><ellipse cx="135.0" cy="124.0" rx="8.0" ry="1.1" fill="#fff" fill-opacity="0.20"/><rect x="118.9" y="36.0" width="1.3" height="120.0" fill="#000" fill-opacity="0.50"/></g>
</g>
<rect x="24.00" y="155.80" width="111.81" height="111.70" fill="none" stroke="#000" stroke-opacity="0.55" stroke-width="0.5"/>
<text class="t" transform="translate(18.50,158.76) scale(0.86,1)" text-anchor="end">0</text>
<text class="t" transform="translate(18.50,173.08) scale(0.86,1)" text-anchor="end">20</text>
<text class="t" transform="translate(18.50,187.40) scale(0.86,1)" text-anchor="end">40</text>
<text class="t" transform="translate(18.50,201.72) scale(0.86,1)" text-anchor="end">60</text>
<text class="t" transform="translate(18.50,216.04) scale(0.86,1)" text-anchor="end">80</text>
<text class="t" transform="translate(18.50,230.36) scale(0.86,1)" text-anchor="end">100</text>
<text class="t" transform="translate(18.50,244.68) scale(0.86,1)" text-anchor="end">120</text>
<text class="t" transform="translate(18.50,259.00) scale(0.86,1)" text-anchor="end">140</text>
<text class="t" transform="translate(23.96,277.50) scale(0.86,1)" text-anchor="middle">0</text>
<text class="t" transform="translate(59.79,277.50) scale(0.86,1)" text-anchor="middle">50</text>
<text class="t" transform="translate(95.63,277.50) scale(0.86,1)" text-anchor="middle">100</text>
<text class="t" transform="translate(131.46,277.50) scale(0.86,1)" text-anchor="middle">150</text>
<path d="M24.00 156.16h-1.8M24.00 170.48h-1.8M24.00 184.80h-1.8M24.00 199.12h-1.8M24.00 213.44h-1.8M24.00 227.76h-1.8M24.00 242.08h-1.8M24.00 256.40h-1.8M24.36 267.50v1.8M60.19 267.50v1.8M96.03 267.50v1.8M131.86 267.50v1.8" stroke="#222" stroke-width="0.5" fill="none"/>
<text class="l" x="69.80" y="288.50">(b)</text>
<g transform="translate(158.00,155.80) scale(0.7167,0.7160)" clip-path="url(#cp11)">
<filter id="f11" filterUnits="userSpaceOnUse" x="-30" y="-30" width="216" height="216" color-interpolation-filters="sRGB"><feGaussianBlur stdDeviation="2.2"/><feComponentTransfer><feFuncR type="table" tableValues="0.000 0.000 0.000 0.000 0.000 0.000 0.000 0.000 0.000 0.000 0.000 0.000 0.000 0.000 0.000 0.000 0.000 0.000 0.000 0.000 0.000 0.000 0.000 0.000 0.000 0.062 0.125 0.188 0.250 0.312 0.375 0.438 0.500 0.562 0.625 0.688 0.750 0.812 0.875 0.938 1.000 1.000 1.000 1.000 1.000 1.000 1.000 1.000 1.000 1.000 1.000 1.000 1.000 1.000 1.000 1.000 1.000 0.997 0.934 0.870 0.806 0.742 0.678 0.614 0.550"/><feFuncG type="table" tableValues="0.000 0.000 0.000 0.000 0.000 0.000 0.000 0.000 0.000 0.062 0.125 0.188 0.250 0.312 0.375 0.438 0.500 0.562 0.625 0.688 0.750 0.812 0.875 0.938 1.000 1.000 1.000 1.000 1.000 1.000 1.000 1.000 1.000 1.000 1.000 1.000 1.000 1.000 1.000 1.000 1.000 0.938 0.875 0.812 0.750 0.688 0.625 0.562 0.500 0.438 0.375 0.312 0.250 0.188 0.125 0.062 0.000 0.000 0.000 0.000 0.000 0.000 0.000 0.000 0.000"/><feFuncB type="table" tableValues="0.500 0.562 0.625 0.688 0.750 0.812 0.875 0.938 1.000 1.000 1.000 1.000 1.000 1.000 1.000 1.000 1.000 1.000 1.000 1.000 1.000 1.000 1.000 1.000 1.000 0.938 0.875 0.812 0.750 0.688 0.625 0.562 0.500 0.438 0.375 0.312 0.250 0.188 0.125 0.062 0.000 0.000 0.000 0.000 0.000 0.000 0.000 0.000 0.000 0.000 0.000 0.000 0.000 0.000 0.000 0.000 0.000 0.000 0.000 0.000 0.000 0.000 0.000 0.000 0.000"/></feComponentTransfer></filter><g filter="url(#f11)"><rect x="-30" y="-30" width="216" height="216" fill="rgb(8,8,8)"/><rect x="-30.0" y="-30.0" width="216.0" height="66.0" fill="rgb(68,68,68)"/><rect x="-30.0" y="36.0" width="216.0" height="4.0" fill="rgb(41,41,41)"/><rect x="-30.0" y="40.0" width="216.0" height="28.0" fill="rgb(33,33,33)"/><rect x="-30.0" y="77.0" width="216.0" height="30.0" fill="rgb(36,36,36)"/><rect x="-30.0" y="135.0" width="216.0" height="40.0" fill="rgb(31,31,31)"/><ellipse cx="10.0" cy="52.0" rx="5.0" ry="13.0" fill="rgb(78,78,78)"/><ellipse cx="10.0" cy="60.5" rx="6.0" ry="6.0" fill="rgb(108,108,108)"/><ellipse cx="17.5" cy="49.0" rx="5.0" ry="6.0" fill="rgb(91,91,91)"/><ellipse cx="45.0" cy="56.0" rx="13.0" ry="6.0" fill="rgb(69,69,69)"/><ellipse cx="41.0" cy="56.0" rx="6.0" ry="6.0" fill="rgb(108,108,108)"/><ellipse cx="88.0" cy="57.6" rx="5.5" ry="5.5" fill="rgb(121,121,121)"/><ellipse cx="117.6" cy="52.0" rx="4.5" ry="10.0" fill="rgb(91,91,91)"/><ellipse cx="117.6" cy="65.0" rx="5.5" ry="5.5" fill="rgb(126,126,126)"/><ellipse cx="135.0" cy="60.5" rx="8.0" ry="6.0" fill="rgb(69,69,69)"/><rect x="151.0" y="46.0" width="10.0" height="18.0" fill="rgb(76,76,76)"/><ellipse cx="30.0" cy="45.0" rx="8.0" ry="5.0" fill="rgb(52,52,52)"/><ellipse cx="65.0" cy="48.0" rx="10.0" ry="5.0" fill="rgb(48,48,48)"/><ellipse cx="100.0" cy="46.0" rx="10.0" ry="5.0" fill="rgb(48,48,48)"/><ellipse cx="140.0" cy="46.0" rx="10.0" ry="5.0" fill="rgb(52,52,52)"/><ellipse cx="70.0" cy="62.0" rx="10.0" ry="4.0" fill="rgb(48,48,48)"/><ellipse cx="104.0" cy="63.0" rx="8.0" ry="4.0" fill="rgb(48,48,48)"/><ellipse cx="14.6" cy="86.0" rx="7.0" ry="6.0" fill="rgb(113,113,113)"/><ellipse cx="18.0" cy="92.0" rx="15.0" ry="5.0" fill="rgb(74,74,74)"/><ellipse cx="64.6" cy="88.5" rx="7.0" ry="5.5" fill="rgb(108,108,108)"/><ellipse cx="80.8" cy="94.4" rx="7.0" ry="6.0" fill="rgb(104,104,104)"/><ellipse cx="41.0" cy="100.0" rx="10.0" ry="6.0" fill="rgb(100,100,100)"/><ellipse cx="117.6" cy="90.0" rx="4.0" ry="16.0" fill="rgb(78,78,78)"/><ellipse cx="117.6" cy="102.0" rx="5.0" ry="5.5" fill="rgb(108,108,108)"/><ellipse cx="97.0" cy="84.0" rx="5.0" ry="4.0" fill="rgb(65,65,65)"/><ellipse cx="108.0" cy="84.0" rx="5.0" ry="4.0" fill="rgb(65,65,65)"/><ellipse cx="135.0" cy="87.0" rx="9.0" ry="6.0" fill="rgb(65,65,65)"/><rect x="151.0" y="86.0" width="10.0" height="16.0" fill="rgb(76,76,76)"/><ellipse cx="25.0" cy="98.0" rx="10.0" ry="4.5" fill="rgb(82,82,82)"/><ellipse cx="62.0" cy="98.0" rx="10.0" ry="4.5" fill="rgb(87,87,87)"/><ellipse cx="98.0" cy="98.0" rx="8.0" ry="4.5" fill="rgb(69,69,69)"/><ellipse cx="135.0" cy="100.0" rx="10.0" ry="4.5" fill="rgb(65,65,65)"/><ellipse cx="36.0" cy="84.0" rx="8.0" ry="4.0" fill="rgb(59,59,59)"/><ellipse cx="50.0" cy="88.0" rx="6.0" ry="4.0" fill="rgb(59,59,59)"/><rect x="5.0" y="125.6" width="142.0" height="5.4" fill="rgb(209,209,209)"/><ellipse cx="17.0" cy="128.3" rx="10.0" ry="3.1" fill="rgb(255,255,255)"/><ellipse cx="74.0" cy="128.3" rx="12.0" ry="3.0" fill="rgb(255,255,255)"/><ellipse cx="119.0" cy="127.6" rx="7.5" ry="3.6" fill="rgb(255,255,255)"/><ellipse cx="119.0" cy="122.5" rx="2.5" ry="5.0" fill="rgb(242,242,242)"/><rect x="-5.0" y="122.0" width="9.0" height="9.0" fill="rgb(115,115,115)"/><rect x="-5.0" y="121.6" width="166.0" height="1.6" fill="rgb(191,191,191)"/><ellipse cx="17.5" cy="142.0" rx="6.5" ry="6.0" fill="rgb(117,117,117)"/><ellipse cx="66.0" cy="142.0" rx="6.0" ry="5.5" fill="rgb(138,138,138)"/><ellipse cx="81.0" cy="142.0" rx="6.0" ry="5.5" fill="rgb(120,120,120)"/><ellipse cx="97.0" cy="142.0" rx="6.0" ry="5.0" fill="rgb(92,92,92)"/><rect x="150.0" y="136.0" width="12.0" height="12.0" fill="rgb(128,128,128)"/><ellipse cx="42.6" cy="143.0" rx="8.0" ry="5.0" fill="rgb(76,76,76)"/><ellipse cx="119.0" cy="137.0" rx="5.0" ry="5.0" fill="rgb(107,107,107)"/><ellipse cx="132.0" cy="143.0" rx="8.0" ry="5.0" fill="rgb(69,69,69)"/><ellipse cx="30.0" cy="151.0" rx="10.0" ry="4.0" fill="rgb(51,51,51)"/><ellipse cx="110.0" cy="151.0" rx="10.0" ry="4.0" fill="rgb(51,51,51)"/></g><linearGradient id="ov11" gradientUnits="userSpaceOnUse" x1="0" y1="0" x2="0" y2="156"><stop offset="0" stop-color="#000" stop-opacity="0.43"/><stop offset="0.24" stop-color="#000" stop-opacity="0.43"/><stop offset="0.3" stop-color="#000" stop-opacity="0.3"/><stop offset="0.7" stop-color="#000" stop-opacity="0.28"/><stop offset="0.78" stop-color="#000" stop-opacity="0.05"/><stop offset="1" stop-color="#000" stop-opacity="0.1"/></linearGradient><rect width="156" height="156" fill="url(#ov11)"/><rect x="0" y="71.8" width="156" height="1.2" fill="#9aa0d8" fill-opacity="0.32"/><rect x="0" y="114.6" width="156" height="1.2" fill="#7060c0" fill-opacity="0.40"/><rect x="0" y="77.5" width="156" height="1.0" fill="#6060c0" fill-opacity="0.15"/>
</g>
<rect x="158.00" y="155.80" width="111.81" height="111.70" fill="none" stroke="#000" stroke-opacity="0.55" stroke-width="0.5"/>
<text class="t" transform="translate(152.50,158.76) scale(0.86,1)" text-anchor="end">0</text>
<text class="t" transform="translate(152.50,173.08) scale(0.86,1)" text-anchor="end">20</text>
<text class="t" transform="translate(152.50,187.40) scale(0.86,1)" text-anchor="end">40</text>
<text class="t" transform="translate(152.50,201.72) scale(0.86,1)" text-anchor="end">60</text>
<text class="t" transform="translate(152.50,216.04) scale(0.86,1)" text-anchor="end">80</text>
<text class="t" transform="translate(152.50,230.36) scale(0.86,1)" text-anchor="end">100</text>
<text class="t" transform="translate(152.50,244.68) scale(0.86,1)" text-anchor="end">120</text>
<text class="t" transform="translate(152.50,259.00) scale(0.86,1)" text-anchor="end">140</text>
<text class="t" transform="translate(157.96,277.50) scale(0.86,1)" text-anchor="middle">0</text>
<text class="t" transform="translate(193.79,277.50) scale(0.86,1)" text-anchor="middle">50</text>
<text class="t" transform="translate(229.63,277.50) scale(0.86,1)" text-anchor="middle">100</text>
<text class="t" transform="translate(265.46,277.50) scale(0.86,1)" text-anchor="middle">150</text>
<path d="M158.00 156.16h-1.8M158.00 170.48h-1.8M158.00 184.80h-1.8M158.00 199.12h-1.8M158.00 213.44h-1.8M158.00 227.76h-1.8M158.00 242.08h-1.8M158.00 256.40h-1.8M158.36 267.50v1.8M194.19 267.50v1.8M230.03 267.50v1.8M265.86 267.50v1.8" stroke="#222" stroke-width="0.5" fill="none"/>
<text class="l" x="191.00" y="288.50">Grad-CAM</text>
<g transform="translate(291.00,155.80) scale(0.7167,0.7160)" clip-path="url(#cp12)">
<filter id="sfg1" filterUnits="userSpaceOnUse" x="0" y="0" width="156" height="156" color-interpolation-filters="sRGB"><feTurbulence type="fractalNoise" baseFrequency="0.16 0.16" numOctaves="3" seed="9" result="n"/><feColorMatrix in="n" type="matrix" values="1 0 0 0 0 1 0 0 0 0 1 0 0 0 0 0 0 0 0 1" result="ng"/><feGaussianBlur in="SourceGraphic" stdDeviation="2.2"/><feComponentTransfer result="e"><feFuncR type="gamma" exponent="1.5"/><feFuncG type="gamma" exponent="1.5"/><feFuncB type="gamma" exponent="1.5"/></feComponentTransfer><feComposite in="e" in2="ng" operator="arithmetic" k1="6.000" k2="-2.160" k3="0" k4="0" result="o"/><feComponentTransfer in="o"><feFuncR type="linear" slope="1.400" intercept="-0.504"/><feFuncG type="linear" slope="1.400" intercept="-0.504"/><feFuncB type="linear" slope="1.400" intercept="-0.504"/></feComponentTransfer><feColorMatrix type="matrix" values="-0.4 0 0 0 0.4  0 0.5 0 0 0.4  0 0 -0.15 0 0.4  0 0 0 0 1"/></filter><g filter="url(#sfg1)"><rect x="-30" y="-30" width="216" height="216" fill="rgb(5,5,5)"/><rect x="-8.7" y="0.5" width="172.7" height="36.2" fill="rgb(48,48,48)"/><rect x="-8.7" y="131.4" width="172.7" height="22.9" fill="rgb(87,87,87)"/><rect x="-8.7" y="100.3" width="172.7" height="18.5" fill="rgb(51,51,51)"/><rect x="-8.7" y="50.1" width="172.7" height="17.0" fill="rgb(76,76,76)"/><rect x="-8.7" y="36.7" width="172.7" height="14.8" fill="rgb(66,66,66)"/><rect x="-8.7" y="67.1" width="172.7" height="14.0" fill="rgb(51,51,51)"/><rect x="-8.7" y="81.1" width="115.9" height="19.2" fill="rgb(76,76,76)"/><rect x="-8.7" y="120.3" width="172.7" height="11.1" fill="rgb(140,140,140)"/><ellipse cx="131.7" cy="90.7" rx="24.4" ry="9.6" fill="rgb(41,41,41)"/><ellipse cx="77.7" cy="142.5" rx="25.9" ry="8.9" fill="rgb(140,140,140)"/><ellipse cx="120.2" cy="142.1" rx="24.8" ry="6.3" fill="rgb(82,82,82)"/><ellipse cx="99.9" cy="125.8" rx="19.2" ry="2.6" fill="rgb(128,128,128)"/><ellipse cx="37.0" cy="125.8" rx="19.2" ry="2.6" fill="rgb(153,153,153)"/><ellipse cx="37.0" cy="89.6" rx="8.1" ry="5.5" fill="rgb(128,128,128)"/><ellipse cx="75.9" cy="75.6" rx="17.4" ry="2.6" fill="rgb(102,102,102)"/><ellipse cx="27.8" cy="140.3" rx="10.0" ry="4.4" fill="rgb(128,128,128)"/><ellipse cx="9.3" cy="142.1" rx="6.3" ry="6.3" fill="rgb(102,102,102)"/><ellipse cx="70.3" cy="125.1" rx="11.8" ry="3.3" fill="rgb(255,255,255)"/><ellipse cx="68.5" cy="142.8" rx="6.3" ry="5.5" fill="rgb(255,255,255)"/><ellipse cx="125.8" cy="126.2" rx="8.1" ry="3.7" fill="rgb(217,217,217)"/><ellipse cx="111.0" cy="53.8" rx="8.1" ry="3.7" fill="rgb(153,153,153)"/><ellipse cx="129.5" cy="63.4" rx="8.1" ry="3.7" fill="rgb(204,204,204)"/><ellipse cx="59.2" cy="53.8" rx="8.1" ry="3.7" fill="rgb(230,230,230)"/><ellipse cx="87.0" cy="147.7" rx="10.0" ry="3.0" fill="rgb(230,230,230)"/><ellipse cx="9.3" cy="124.0" rx="10.0" ry="3.0" fill="rgb(255,255,255)"/><ellipse cx="149.8" cy="140.3" rx="6.3" ry="4.4" fill="rgb(178,178,178)"/><ellipse cx="144.3" cy="127.7" rx="11.8" ry="2.2" fill="rgb(128,128,128)"/><ellipse cx="38.9" cy="55.6" rx="6.3" ry="4.1" fill="rgb(204,204,204)"/><ellipse cx="144.3" cy="53.4" rx="8.1" ry="2.6" fill="rgb(128,128,128)"/><ellipse cx="96.2" cy="86.7" rx="8.1" ry="2.6" fill="rgb(102,102,102)"/><ellipse cx="9.3" cy="85.2" rx="6.3" ry="3.3" fill="rgb(204,204,204)"/><ellipse cx="9.3" cy="53.4" rx="6.3" ry="3.3" fill="rgb(230,230,230)"/><ellipse cx="64.8" cy="84.8" rx="6.3" ry="3.0" fill="rgb(217,217,217)"/><ellipse cx="43.3" cy="142.1" rx="4.1" ry="2.6" fill="rgb(178,178,178)"/><ellipse cx="5.6" cy="117.3" rx="2.6" ry="3.7" fill="rgb(230,230,230)"/></g><g filter="url(#hb1)"><ellipse cx="9.0" cy="53.5" rx="3.8" ry="1.5" fill="#00e63c" fill-opacity="0.33"/><ellipse cx="38.0" cy="55.0" rx="3.8" ry="1.9" fill="#00e63c" fill-opacity="0.25"/><ellipse cx="56.0" cy="53.0" rx="2.5" ry="1.5" fill="#00e63c" fill-opacity="0.35"/><ellipse cx="63.0" cy="54.0" rx="2.5" ry="1.5" fill="#00e63c" fill-opacity="0.30"/><ellipse cx="110.0" cy="54.0" rx="4.2" ry="1.7" fill="#00e63c" fill-opacity="0.23"/><ellipse cx="129.0" cy="63.0" rx="4.2" ry="1.9" fill="#00e63c" fill-opacity="0.30"/><ellipse cx="144.0" cy="54.0" rx="3.4" ry="1.4" fill="#00e63c" fill-opacity="0.17"/><ellipse cx="8.0" cy="85.0" rx="3.8" ry="1.9" fill="#00e63c" fill-opacity="0.30"/><ellipse cx="36.0" cy="88.0" rx="4.2" ry="2.1" fill="#00e63c" fill-opacity="0.17"/><ellipse cx="64.0" cy="84.5" rx="3.8" ry="1.5" fill="#00e63c" fill-opacity="0.33"/><ellipse cx="98.0" cy="88.0" rx="4.2" ry="1.5" fill="#00e63c" fill-opacity="0.15"/><ellipse cx="8.0" cy="123.5" rx="7.6" ry="1.9" fill="#00e63c" fill-opacity="0.50"/><ellipse cx="6.0" cy="116.0" rx="1.7" ry="3.0" fill="#00e63c" fill-opacity="0.42"/><ellipse cx="40.0" cy="126.0" rx="13.6" ry="1.7" fill="#00e63c" fill-opacity="0.28"/><ellipse cx="70.0" cy="125.0" rx="8.5" ry="2.2" fill="#00e63c" fill-opacity="0.50"/><ellipse cx="100.0" cy="126.0" rx="11.9" ry="1.7" fill="#00e63c" fill-opacity="0.25"/><ellipse cx="125.0" cy="126.0" rx="6.0" ry="2.4" fill="#00e63c" fill-opacity="0.42"/><ellipse cx="146.0" cy="128.0" rx="7.6" ry="1.5" fill="#00e63c" fill-opacity="0.25"/><ellipse cx="68.5" cy="143.0" rx="4.2" ry="4.2" fill="#00e63c" fill-opacity="0.50"/><ellipse cx="86.0" cy="147.5" rx="6.8" ry="1.9" fill="#00e63c" fill-opacity="0.45"/><ellipse cx="43.0" cy="142.0" rx="3.0" ry="2.1" fill="#00e63c" fill-opacity="0.35"/><ellipse cx="30.0" cy="139.0" rx="7.6" ry="3.0" fill="#00e63c" fill-opacity="0.23"/><ellipse cx="150.0" cy="140.0" rx="3.8" ry="3.0" fill="#00e63c" fill-opacity="0.35"/><ellipse cx="120.0" cy="143.0" rx="13.6" ry="3.4" fill="#00e63c" fill-opacity="0.17"/><ellipse cx="12.0" cy="143.0" rx="4.2" ry="4.2" fill="#00e63c" fill-opacity="0.20"/><ellipse cx="100.0" cy="136.0" rx="6.8" ry="2.1" fill="#00e63c" fill-opacity="0.20"/></g>
</g>
<rect x="291.00" y="155.80" width="111.81" height="111.70" fill="none" stroke="#000" stroke-opacity="0.55" stroke-width="0.5"/>
<text class="t" transform="translate(285.50,158.76) scale(0.86,1)" text-anchor="end">0</text>
<text class="t" transform="translate(285.50,173.08) scale(0.86,1)" text-anchor="end">20</text>
<text class="t" transform="translate(285.50,187.40) scale(0.86,1)" text-anchor="end">40</text>
<text class="t" transform="translate(285.50,201.72) scale(0.86,1)" text-anchor="end">60</text>
<text class="t" transform="translate(285.50,216.04) scale(0.86,1)" text-anchor="end">80</text>
<text class="t" transform="translate(285.50,230.36) scale(0.86,1)" text-anchor="end">100</text>
<text class="t" transform="translate(285.50,244.68) scale(0.86,1)" text-anchor="end">120</text>
<text class="t" transform="translate(285.50,259.00) scale(0.86,1)" text-anchor="end">140</text>
<text class="t" transform="translate(290.96,277.50) scale(0.86,1)" text-anchor="middle">0</text>
<text class="t" transform="translate(326.79,277.50) scale(0.86,1)" text-anchor="middle">50</text>
<text class="t" transform="translate(362.63,277.50) scale(0.86,1)" text-anchor="middle">100</text>
<text class="t" transform="translate(398.46,277.50) scale(0.86,1)" text-anchor="middle">150</text>
<path d="M291.00 156.16h-1.8M291.00 170.48h-1.8M291.00 184.80h-1.8M291.00 199.12h-1.8M291.00 213.44h-1.8M291.00 227.76h-1.8M291.00 242.08h-1.8M291.00 256.40h-1.8M291.36 267.50v1.8M327.19 267.50v1.8M363.03 267.50v1.8M398.86 267.50v1.8" stroke="#222" stroke-width="0.5" fill="none"/>
<text class="l" x="314.60" y="288.50">Guided Grad-CAM</text>
<g transform="translate(424.60,155.80) scale(0.7167,0.7160)" clip-path="url(#cp13)">
<filter id="sfs1" filterUnits="userSpaceOnUse" x="0" y="0" width="156" height="156" color-interpolation-filters="sRGB"><feTurbulence type="fractalNoise" baseFrequency="0.16 0.16" numOctaves="3" seed="9" result="n"/><feColorMatrix in="n" type="matrix" values="1 0 0 0 0 1 0 0 0 0 1 0 0 0 0 0 0 0 0 1" result="ng"/><feGaussianBlur in="SourceGraphic" stdDeviation="2.2"/><feComponentTransfer result="e"><feFuncR type="gamma" exponent="1.5"/><feFuncG type="gamma" exponent="1.5"/><feFuncB type="gamma" exponent="1.5"/></feComponentTransfer><feComposite in="e" in2="ng" operator="arithmetic" k1="6.000" k2="-2.160" k3="0" k4="0" result="o"/><feComponentTransfer in="o"><feFuncR type="linear" slope="1.50" intercept="-0.12"/><feFuncG type="linear" slope="1.50" intercept="-0.12"/><feFuncB type="linear" slope="1.50" intercept="-0.12"/></feComponentTransfer></filter><g filter="url(#sfs1)"><rect x="-30" y="-30" width="216" height="216" fill="rgb(5,5,5)"/><rect x="-8.7" y="0.5" width="172.7" height="36.2" fill="rgb(48,48,48)"/><rect x="-8.7" y="131.4" width="172.7" height="22.9" fill="rgb(87,87,87)"/><rect x="-8.7" y="100.3" width="172.7" height="18.5" fill="rgb(51,51,51)"/><rect x="-8.7" y="50.1" width="172.7" height="17.0" fill="rgb(76,76,76)"/><rect x="-8.7" y="36.7" width="172.7" height="14.8" fill="rgb(66,66,66)"/><rect x="-8.7" y="67.1" width="172.7" height="14.0" fill="rgb(51,51,51)"/><rect x="-8.7" y="81.1" width="115.9" height="19.2" fill="rgb(76,76,76)"/><rect x="-8.7" y="120.3" width="172.7" height="11.1" fill="rgb(140,140,140)"/><ellipse cx="131.7" cy="90.7" rx="24.4" ry="9.6" fill="rgb(41,41,41)"/><ellipse cx="77.7" cy="142.5" rx="25.9" ry="8.9" fill="rgb(140,140,140)"/><ellipse cx="120.2" cy="142.1" rx="24.8" ry="6.3" fill="rgb(82,82,82)"/><ellipse cx="99.9" cy="125.8" rx="19.2" ry="2.6" fill="rgb(128,128,128)"/><ellipse cx="37.0" cy="125.8" rx="19.2" ry="2.6" fill="rgb(153,153,153)"/><ellipse cx="37.0" cy="89.6" rx="8.1" ry="5.5" fill="rgb(128,128,128)"/><ellipse cx="75.9" cy="75.6" rx="17.4" ry="2.6" fill="rgb(102,102,102)"/><ellipse cx="27.8" cy="140.3" rx="10.0" ry="4.4" fill="rgb(128,128,128)"/><ellipse cx="9.3" cy="142.1" rx="6.3" ry="6.3" fill="rgb(102,102,102)"/><ellipse cx="70.3" cy="125.1" rx="11.8" ry="3.3" fill="rgb(255,255,255)"/><ellipse cx="68.5" cy="142.8" rx="6.3" ry="5.5" fill="rgb(255,255,255)"/><ellipse cx="125.8" cy="126.2" rx="8.1" ry="3.7" fill="rgb(217,217,217)"/><ellipse cx="111.0" cy="53.8" rx="8.1" ry="3.7" fill="rgb(153,153,153)"/><ellipse cx="129.5" cy="63.4" rx="8.1" ry="3.7" fill="rgb(204,204,204)"/><ellipse cx="59.2" cy="53.8" rx="8.1" ry="3.7" fill="rgb(230,230,230)"/><ellipse cx="87.0" cy="147.7" rx="10.0" ry="3.0" fill="rgb(230,230,230)"/><ellipse cx="9.3" cy="124.0" rx="10.0" ry="3.0" fill="rgb(255,255,255)"/><ellipse cx="149.8" cy="140.3" rx="6.3" ry="4.4" fill="rgb(178,178,178)"/><ellipse cx="144.3" cy="127.7" rx="11.8" ry="2.2" fill="rgb(128,128,128)"/><ellipse cx="38.9" cy="55.6" rx="6.3" ry="4.1" fill="rgb(204,204,204)"/><ellipse cx="144.3" cy="53.4" rx="8.1" ry="2.6" fill="rgb(128,128,128)"/><ellipse cx="96.2" cy="86.7" rx="8.1" ry="2.6" fill="rgb(102,102,102)"/><ellipse cx="9.3" cy="85.2" rx="6.3" ry="3.3" fill="rgb(204,204,204)"/><ellipse cx="9.3" cy="53.4" rx="6.3" ry="3.3" fill="rgb(230,230,230)"/><ellipse cx="64.8" cy="84.8" rx="6.3" ry="3.0" fill="rgb(217,217,217)"/><ellipse cx="43.3" cy="142.1" rx="4.1" ry="2.6" fill="rgb(178,178,178)"/><ellipse cx="5.6" cy="117.3" rx="2.6" ry="3.7" fill="rgb(230,230,230)"/></g><filter id="hb1" filterUnits="userSpaceOnUse" x="-10" y="-10" width="176" height="176"><feGaussianBlur stdDeviation="1.2"/></filter><g filter="url(#hb1)"><ellipse cx="9.0" cy="53.5" rx="4.5" ry="1.8" fill="#fff" fill-opacity="0.65"/><ellipse cx="38.0" cy="55.0" rx="4.5" ry="2.2" fill="#fff" fill-opacity="0.50"/><ellipse cx="56.0" cy="53.0" rx="3.0" ry="1.8" fill="#fff" fill-opacity="0.70"/><ellipse cx="63.0" cy="54.0" rx="3.0" ry="1.8" fill="#fff" fill-opacity="0.60"/><ellipse cx="110.0" cy="54.0" rx="5.0" ry="2.0" fill="#fff" fill-opacity="0.45"/><ellipse cx="129.0" cy="63.0" rx="5.0" ry="2.2" fill="#fff" fill-opacity="0.60"/><ellipse cx="144.0" cy="54.0" rx="4.0" ry="1.6" fill="#fff" fill-opacity="0.35"/><ellipse cx="8.0" cy="85.0" rx="4.5" ry="2.2" fill="#fff" fill-opacity="0.60"/><ellipse cx="36.0" cy="88.0" rx="5.0" ry="2.5" fill="#fff" fill-opacity="0.35"/><ellipse cx="64.0" cy="84.5" rx="4.5" ry="1.8" fill="#fff" fill-opacity="0.65"/><ellipse cx="98.0" cy="88.0" rx="5.0" ry="1.8" fill="#fff" fill-opacity="0.30"/><ellipse cx="8.0" cy="123.5" rx="9.0" ry="2.2" fill="#fff" fill-opacity="1.00"/><ellipse cx="6.0" cy="116.0" rx="2.0" ry="3.5" fill="#fff" fill-opacity="0.85"/><ellipse cx="40.0" cy="126.0" rx="16.0" ry="2.0" fill="#fff" fill-opacity="0.55"/><ellipse cx="70.0" cy="125.0" rx="10.0" ry="2.6" fill="#fff" fill-opacity="1.00"/><ellipse cx="100.0" cy="126.0" rx="14.0" ry="2.0" fill="#fff" fill-opacity="0.50"/><ellipse cx="125.0" cy="126.0" rx="7.0" ry="2.8" fill="#fff" fill-opacity="0.85"/><ellipse cx="146.0" cy="128.0" rx="9.0" ry="1.8" fill="#fff" fill-opacity="0.50"/><ellipse cx="68.5" cy="143.0" rx="5.0" ry="5.0" fill="#fff" fill-opacity="1.00"/><ellipse cx="86.0" cy="147.5" rx="8.0" ry="2.2" fill="#fff" fill-opacity="0.90"/><ellipse cx="43.0" cy="142.0" rx="3.5" ry="2.5" fill="#fff" fill-opacity="0.70"/><ellipse cx="30.0" cy="139.0" rx="9.0" ry="3.5" fill="#fff" fill-opacity="0.45"/><ellipse cx="150.0" cy="140.0" rx="4.5" ry="3.5" fill="#fff" fill-opacity="0.70"/><ellipse cx="120.0" cy="143.0" rx="16.0" ry="4.0" fill="#fff" fill-opacity="0.35"/><ellipse cx="12.0" cy="143.0" rx="5.0" ry="5.0" fill="#fff" fill-opacity="0.40"/><ellipse cx="100.0" cy="136.0" rx="8.0" ry="2.5" fill="#fff" fill-opacity="0.40"/></g><pattern id="gps1" patternUnits="userSpaceOnUse" width="4" height="4"><path d="M0,0H4M0,0V4" stroke="#000" stroke-width="2.0" fill="none"/></pattern><rect width="156" height="156" fill="url(#gps1)" fill-opacity="0.25"/><rect x="0" y="124.6" width="20" height="1.3" fill="#fff" fill-opacity="0.8"/><rect x="58" y="124.6" width="26" height="1.3" fill="#fff" fill-opacity="0.6"/><rect x="112" y="124.6" width="44" height="1.3" fill="#fff" fill-opacity="0.45"/>
</g>
<rect x="424.60" y="155.80" width="111.81" height="111.70" fill="none" stroke="#000" stroke-opacity="0.55" stroke-width="0.5"/>
<text class="t" transform="translate(419.10,158.76) scale(0.86,1)" text-anchor="end">0</text>
<text class="t" transform="translate(419.10,173.08) scale(0.86,1)" text-anchor="end">20</text>
<text class="t" transform="translate(419.10,187.40) scale(0.86,1)" text-anchor="end">40</text>
<text class="t" transform="translate(419.10,201.72) scale(0.86,1)" text-anchor="end">60</text>
<text class="t" transform="translate(419.10,216.04) scale(0.86,1)" text-anchor="end">80</text>
<text class="t" transform="translate(419.10,230.36) scale(0.86,1)" text-anchor="end">100</text>
<text class="t" transform="translate(419.10,244.68) scale(0.86,1)" text-anchor="end">120</text>
<text class="t" transform="translate(419.10,259.00) scale(0.86,1)" text-anchor="end">140</text>
<text class="t" transform="translate(424.56,277.50) scale(0.86,1)" text-anchor="middle">0</text>
<text class="t" transform="translate(460.39,277.50) scale(0.86,1)" text-anchor="middle">50</text>
<text class="t" transform="translate(496.23,277.50) scale(0.86,1)" text-anchor="middle">100</text>
<text class="t" transform="translate(532.06,277.50) scale(0.86,1)" text-anchor="middle">150</text>
<path d="M424.60 156.16h-1.8M424.60 170.48h-1.8M424.60 184.80h-1.8M424.60 199.12h-1.8M424.60 213.44h-1.8M424.60 227.76h-1.8M424.60 242.08h-1.8M424.60 256.40h-1.8M424.96 267.50v1.8M460.79 267.50v1.8M496.63 267.50v1.8M532.46 267.50v1.8" stroke="#222" stroke-width="0.5" fill="none"/>
<text class="l" x="455.50" y="288.50">Saliency Map</text>
<g transform="translate(24.00,296.50) scale(0.7167,0.7160)" clip-path="url(#cp20)">
<filter id="sc20" filterUnits="userSpaceOnUse" x="0" y="0" width="156" height="156" color-interpolation-filters="sRGB"><feComponentTransfer><feFuncR type="table" tableValues="0.322 0.327 0.333 0.339 0.345 0.333 0.322 0.310 0.298 0.280 0.263 0.245 0.227 0.200 0.173 0.145 0.118 0.088 0.059 0.029 0.000 0.020 0.039 0.059 0.078 0.118 0.157 0.196 0.235 0.294 0.353 0.412 0.471 0.539 0.608 0.676 0.745 0.807 0.869 0.930 0.992"/><feFuncG type="table" tableValues="0.000 0.014 0.027 0.041 0.055 0.090 0.125 0.161 0.196 0.230 0.265 0.299 0.333 0.368 0.402 0.436 0.471 0.500 0.529 0.559 0.588 0.608 0.627 0.647 0.667 0.691 0.716 0.740 0.765 0.784 0.804 0.824 0.843 0.853 0.863 0.873 0.882 0.888 0.894 0.900 0.906"/><feFuncB type="table" tableValues="0.341 0.372 0.402 0.432 0.463 0.494 0.525 0.557 0.588 0.603 0.618 0.632 0.647 0.642 0.637 0.632 0.627 0.618 0.608 0.598 0.588 0.578 0.569 0.559 0.549 0.529 0.510 0.490 0.471 0.441 0.412 0.382 0.353 0.314 0.275 0.235 0.196 0.183 0.171 0.158 0.145"/></feComponentTransfer></filter><filter id="sn20" filterUnits="userSpaceOnUse" x="0" y="0" width="156" height="156" color-interpolation-filters="sRGB"><feTurbulence type="fractalNoise" baseFrequency="0.4 0.3" numOctaves="2" seed="11"/><feColorMatrix type="matrix" values="0.850 0 0 0 -0.170  0.850 0 0 0 -0.170  0.850 0 0 0 -0.170  0 0 0 0 1"/></filter><linearGradient id="sg20" gradientUnits="userSpaceOnUse" x1="0" y1="39.5" x2="0" y2="41.0"><stop offset="0" stop-color="#000" stop-opacity="1"/><stop offset="1" stop-color="#000" stop-opacity="0"/></linearGradient><g filter="url(#sc20)"><rect width="156" height="156" fill="#000"/><rect x="0" y="0" width="156" height="156" fill="#fff" filter="url(#sn20)"/><rect x="0" y="0" width="156" height="39.5" fill="#000"/><rect x="0" y="39.5" width="156" height="1.5" fill="url(#sg20)"/><linearGradient id="cg20" gradientUnits="userSpaceOnUse" x1="0" y1="40" x2="0" y2="156"><stop offset="0" stop-color="#fff" stop-opacity="0"/><stop offset="0.5" stop-color="#fff" stop-opacity="0.06"/><stop offset="1" stop-color="#fff" stop-opacity="0.09"/></linearGradient><rect y="40" width="156" height="116" fill="url(#cg20)"/><rect x="118.9" y="39.5" width="1.3" height="116.5" fill="#000" fill-opacity="0.70"/></g>
</g>
<rect x="24.00" y="296.50" width="111.81" height="111.70" fill="none" stroke="#000" stroke-opacity="0.55" stroke-width="0.5"/>
<text class="t" transform="translate(18.50,299.46) scale(0.86,1)" text-anchor="end">0</text>
<text class="t" transform="translate(18.50,313.78) scale(0.86,1)" text-anchor="end">20</text>
<text class="t" transform="translate(18.50,328.10) scale(0.86,1)" text-anchor="end">40</text>
<text class="t" transform="translate(18.50,342.42) scale(0.86,1)" text-anchor="end">60</text>
<text class="t" transform="translate(18.50,356.74) scale(0.86,1)" text-anchor="end">80</text>
<text class="t" transform="translate(18.50,371.06) scale(0.86,1)" text-anchor="end">100</text>
<text class="t" transform="translate(18.50,385.38) scale(0.86,1)" text-anchor="end">120</text>
<text class="t" transform="translate(18.50,399.70) scale(0.86,1)" text-anchor="end">140</text>
<text class="t" transform="translate(23.96,418.20) scale(0.86,1)" text-anchor="middle">0</text>
<text class="t" transform="translate(59.79,418.20) scale(0.86,1)" text-anchor="middle">50</text>
<text class="t" transform="translate(95.63,418.20) scale(0.86,1)" text-anchor="middle">100</text>
<text class="t" transform="translate(131.46,418.20) scale(0.86,1)" text-anchor="middle">150</text>
<path d="M24.00 296.86h-1.8M24.00 311.18h-1.8M24.00 325.50h-1.8M24.00 339.82h-1.8M24.00 354.14h-1.8M24.00 368.46h-1.8M24.00 382.78h-1.8M24.00 397.10h-1.8M24.36 408.20v1.8M60.19 408.20v1.8M96.03 408.20v1.8M131.86 408.20v1.8" stroke="#222" stroke-width="0.5" fill="none"/>
<text class="l" x="75.20" y="429.20">(c)</text>
<g transform="translate(158.60,296.50) scale(0.7167,0.7160)" clip-path="url(#cp21)">
<filter id="f21" filterUnits="userSpaceOnUse" x="-30" y="-30" width="216" height="216" color-interpolation-filters="sRGB"><feGaussianBlur stdDeviation="2.6"/><feComponentTransfer><feFuncR type="table" tableValues="0.000 0.000 0.000 0.000 0.000 0.000 0.000 0.000 0.000 0.000 0.000 0.000 0.000 0.000 0.000 0.000 0.000 0.000 0.000 0.000 0.000 0.000 0.000 0.000 0.000 0.062 0.125 0.188 0.250 0.312 0.375 0.438 0.500 0.562 0.625 0.688 0.750 0.812 0.875 0.938 1.000 1.000 1.000 1.000 1.000 1.000 1.000 1.000 1.000 1.000 1.000 1.000 1.000 1.000 1.000 1.000 1.000 0.997 0.926 0.855 0.784 0.713 0.642 0.571 0.500"/><feFuncG type="table" tableValues="0.000 0.000 0.000 0.000 0.000 0.000 0.000 0.000 0.000 0.062 0.125 0.188 0.250 0.312 0.375 0.438 0.500 0.562 0.625 0.688 0.750 0.812 0.875 0.938 1.000 1.000 1.000 1.000 1.000 1.000 1.000 1.000 1.000 1.000 1.000 1.000 1.000 1.000 1.000 1.000 1.000 0.938 0.875 0.812 0.750 0.688 0.625 0.562 0.500 0.438 0.375 0.312 0.250 0.188 0.125 0.062 0.000 0.000 0.000 0.000 0.000 0.000 0.000 0.000 0.000"/><feFuncB type="table" tableValues="0.470 0.529 0.587 0.646 0.705 0.764 0.823 0.881 0.940 0.940 0.940 0.940 0.940 0.940 0.940 0.940 0.940 0.940 0.940 0.940 0.940 0.940 0.940 0.940 0.940 0.881 0.823 0.764 0.705 0.646 0.587 0.529 0.470 0.411 0.352 0.294 0.235 0.176 0.117 0.059 0.000 0.000 0.000 0.000 0.000 0.000 0.000 0.000 0.000 0.000 0.000 0.000 0.000 0.000 0.000 0.000 0.000 0.000 0.000 0.000 0.000 0.000 0.000 0.000 0.000"/></feComponentTransfer></filter><g filter="url(#f21)"><rect x="-30" y="-30" width="216" height="216" fill="rgb(65,65,65)"/><filter id="fb21" filterUnits="userSpaceOnUse" x="-30" y="-30" width="216" height="216" color-interpolation-filters="sRGB"><feGaussianBlur stdDeviation="5"/></filter><g filter="url(#fb21)"><rect x="-30" y="-30" width="216" height="216" fill="rgb(65,65,65)"/><rect x="-30.0" y="38.0" width="216.0" height="150.0" fill="rgb(79,79,79)"/><ellipse cx="40.0" cy="70.0" rx="26.0" ry="22.0" fill="rgb(128,128,128)"/><ellipse cx="38.0" cy="110.0" rx="30.0" ry="30.0" fill="rgb(133,133,133)"/><ellipse cx="40.0" cy="145.0" rx="30.0" ry="14.0" fill="rgb(128,128,128)"/><ellipse cx="22.0" cy="100.0" rx="8.0" ry="50.0" fill="rgb(107,107,107)"/><rect x="-12.0" y="36.0" width="14.0" height="130.0" fill="rgb(20,20,20)"/><ellipse cx="118.0" cy="58.0" rx="18.0" ry="12.0" fill="rgb(105,105,105)"/><ellipse cx="92.0" cy="100.0" rx="14.0" ry="22.0" fill="rgb(97,97,97)"/><ellipse cx="128.0" cy="104.0" rx="12.0" ry="10.0" fill="rgb(107,107,107)"/><ellipse cx="125.0" cy="146.0" rx="24.0" ry="8.0" fill="rgb(102,102,102)"/><rect x="150.0" y="44.0" width="12.0" height="120.0" fill="rgb(117,117,117)"/></g><rect x="-30.0" y="-30.0" width="216.0" height="65.0" fill="rgb(65,65,65)"/><rect x="-5.0" y="36.0" width="11.0" height="15.0" fill="rgb(8,8,8)"/><ellipse cx="76.0" cy="40.0" rx="6.0" ry="4.0" fill="rgb(15,15,15)"/><ellipse cx="100.0" cy="45.0" rx="7.0" ry="4.0" fill="rgb(36,36,36)"/><ellipse cx="144.0" cy="42.0" rx="8.0" ry="4.0" fill="rgb(36,36,36)"/><ellipse cx="60.0" cy="40.0" rx="10.0" ry="3.0" fill="rgb(51,51,51)"/><ellipse cx="125.0" cy="40.0" rx="8.0" ry="3.0" fill="rgb(51,51,51)"/><ellipse cx="51.0" cy="53.6" rx="4.5" ry="4.5" fill="rgb(184,184,184)"/><ellipse cx="35.0" cy="64.0" rx="4.5" ry="6.5" fill="rgb(173,173,173)"/><ellipse cx="66.0" cy="65.0" rx="4.5" ry="5.5" fill="rgb(178,178,178)"/><ellipse cx="35.0" cy="80.0" rx="5.0" ry="5.5" fill="rgb(204,204,204)"/><ellipse cx="59.0" cy="89.5" rx="4.2" ry="7.5" fill="rgb(255,255,255)"/><ellipse cx="28.0" cy="90.0" rx="5.5" ry="5.0" fill="rgb(209,209,209)"/><ellipse cx="32.0" cy="103.5" rx="6.5" ry="4.2" fill="rgb(250,250,250)"/><ellipse cx="53.0" cy="98.0" rx="4.5" ry="4.5" fill="rgb(217,217,217)"/><ellipse cx="22.0" cy="56.5" rx="5.0" ry="5.0" fill="rgb(148,148,148)"/><ellipse cx="72.0" cy="59.5" rx="5.0" ry="5.0" fill="rgb(140,140,140)"/><ellipse cx="51.4" cy="107.0" rx="4.0" ry="6.0" fill="rgb(242,242,242)"/><ellipse cx="67.6" cy="111.0" rx="3.8" ry="7.0" fill="rgb(235,235,235)"/><ellipse cx="35.0" cy="135.0" rx="4.2" ry="14.0" fill="rgb(255,255,255)"/><ellipse cx="51.4" cy="139.0" rx="3.8" ry="12.0" fill="rgb(235,235,235)"/><ellipse cx="67.6" cy="128.7" rx="4.0" ry="7.0" fill="rgb(255,255,255)"/><ellipse cx="66.0" cy="151.0" rx="5.0" ry="4.5" fill="rgb(255,255,255)"/><ellipse cx="29.0" cy="152.0" rx="6.0" ry="4.0" fill="rgb(230,230,230)"/><ellipse cx="17.5" cy="129.0" rx="4.0" ry="9.0" fill="rgb(148,148,148)"/><ellipse cx="42.0" cy="120.0" rx="4.0" ry="5.0" fill="rgb(166,166,166)"/><ellipse cx="44.0" cy="71.0" rx="2.5" ry="2.5" fill="rgb(76,76,76)"/><ellipse cx="48.5" cy="90.0" rx="2.5" ry="3.0" fill="rgb(71,71,71)"/><ellipse cx="59.0" cy="127.0" rx="2.6" ry="3.0" fill="rgb(13,13,13)"/><ellipse cx="19.0" cy="103.7" rx="3.0" ry="3.0" fill="rgb(76,76,76)"/><ellipse cx="44.0" cy="82.0" rx="3.5" ry="4.5" fill="rgb(178,178,178)"/><ellipse cx="60.0" cy="72.0" rx="4.0" ry="4.0" fill="rgb(153,153,153)"/><ellipse cx="10.0" cy="75.0" rx="4.0" ry="8.0" fill="rgb(97,97,97)"/><ellipse cx="10.0" cy="115.0" rx="4.0" ry="10.0" fill="rgb(97,97,97)"/><ellipse cx="42.0" cy="105.0" rx="3.0" ry="3.0" fill="rgb(178,178,178)"/><ellipse cx="82.0" cy="75.0" rx="4.5" ry="7.0" fill="rgb(18,18,18)"/><ellipse cx="100.0" cy="62.0" rx="7.0" ry="5.0" fill="rgb(38,38,38)"/><ellipse cx="98.5" cy="88.0" rx="6.0" ry="5.0" fill="rgb(13,13,13)"/><ellipse cx="76.4" cy="89.5" rx="5.0" ry="5.0" fill="rgb(31,31,31)"/><ellipse cx="132.0" cy="81.5" rx="9.0" ry="5.0" fill="rgb(15,15,15)"/><ellipse cx="113.0" cy="71.0" rx="5.0" ry="5.0" fill="rgb(43,43,43)"/><ellipse cx="138.0" cy="117.0" rx="5.0" ry="7.5" fill="rgb(18,18,18)"/><ellipse cx="82.3" cy="120.0" rx="5.0" ry="6.0" fill="rgb(31,31,31)"/><ellipse cx="126.5" cy="131.7" rx="6.0" ry="5.0" fill="rgb(18,18,18)"/><ellipse cx="98.5" cy="142.0" rx="6.0" ry="5.0" fill="rgb(13,13,13)"/><ellipse cx="79.4" cy="140.5" rx="5.0" ry="5.0" fill="rgb(38,38,38)"/><ellipse cx="114.7" cy="125.8" rx="5.0" ry="5.0" fill="rgb(43,43,43)"/><ellipse cx="85.0" cy="151.0" rx="6.0" ry="4.0" fill="rgb(43,43,43)"/><ellipse cx="114.7" cy="49.0" rx="5.0" ry="5.5" fill="rgb(128,128,128)"/><ellipse cx="110.0" cy="62.4" rx="4.5" ry="4.5" fill="rgb(112,112,112)"/><ellipse cx="126.0" cy="71.0" rx="4.5" ry="4.5" fill="rgb(138,138,138)"/><ellipse cx="135.0" cy="65.0" rx="5.0" ry="5.0" fill="rgb(117,117,117)"/><ellipse cx="89.7" cy="89.5" rx="4.5" ry="5.0" fill="rgb(133,133,133)"/><ellipse cx="91.0" cy="65.0" rx="4.5" ry="5.5" fill="rgb(112,112,112)"/><rect x="152.0" y="48.0" width="10.0" height="18.0" fill="rgb(143,143,143)"/><ellipse cx="126.5" cy="96.0" rx="5.5" ry="4.5" fill="rgb(107,107,107)"/><ellipse cx="98.0" cy="101.0" rx="5.5" ry="4.5" fill="rgb(102,102,102)"/><ellipse cx="129.4" cy="103.7" rx="4.5" ry="5.5" fill="rgb(168,168,168)"/><ellipse cx="91.0" cy="123.0" rx="5.0" ry="6.5" fill="rgb(122,122,122)"/><rect x="152.5" y="117.0" width="10.0" height="12.0" fill="rgb(217,217,217)"/><rect x="152.0" y="80.0" width="10.0" height="9.0" fill="rgb(128,128,128)"/><ellipse cx="114.7" cy="108.0" rx="5.5" ry="5.0" fill="rgb(107,107,107)"/><ellipse cx="114.7" cy="146.4" rx="5.5" ry="5.0" fill="rgb(107,107,107)"/><ellipse cx="135.0" cy="146.0" rx="5.5" ry="5.0" fill="rgb(112,112,112)"/><ellipse cx="150.0" cy="149.0" rx="5.0" ry="4.0" fill="rgb(107,107,107)"/><ellipse cx="104.0" cy="115.0" rx="4.5" ry="4.5" fill="rgb(97,97,97)"/><ellipse cx="80.0" cy="104.0" rx="4.5" ry="5.5" fill="rgb(97,97,97)"/><ellipse cx="146.0" cy="132.0" rx="4.5" ry="4.5" fill="rgb(102,102,102)"/><ellipse cx="100.0" cy="128.0" rx="4.5" ry="4.5" fill="rgb(97,97,97)"/></g>
</g>
<rect x="158.60" y="296.50" width="111.81" height="111.70" fill="none" stroke="#000" stroke-opacity="0.55" stroke-width="0.5"/>
<text class="t" transform="translate(153.10,299.46) scale(0.86,1)" text-anchor="end">0</text>
<text class="t" transform="translate(153.10,313.78) scale(0.86,1)" text-anchor="end">20</text>
<text class="t" transform="translate(153.10,328.10) scale(0.86,1)" text-anchor="end">40</text>
<text class="t" transform="translate(153.10,342.42) scale(0.86,1)" text-anchor="end">60</text>
<text class="t" transform="translate(153.10,356.74) scale(0.86,1)" text-anchor="end">80</text>
<text class="t" transform="translate(153.10,371.06) scale(0.86,1)" text-anchor="end">100</text>
<text class="t" transform="translate(153.10,385.38) scale(0.86,1)" text-anchor="end">120</text>
<text class="t" transform="translate(153.10,399.70) scale(0.86,1)" text-anchor="end">140</text>
<text class="t" transform="translate(158.56,418.20) scale(0.86,1)" text-anchor="middle">0</text>
<text class="t" transform="translate(194.39,418.20) scale(0.86,1)" text-anchor="middle">50</text>
<text class="t" transform="translate(230.23,418.20) scale(0.86,1)" text-anchor="middle">100</text>
<text class="t" transform="translate(266.06,418.20) scale(0.86,1)" text-anchor="middle">150</text>
<path d="M158.60 296.86h-1.8M158.60 311.18h-1.8M158.60 325.50h-1.8M158.60 339.82h-1.8M158.60 354.14h-1.8M158.60 368.46h-1.8M158.60 382.78h-1.8M158.60 397.10h-1.8M158.96 408.20v1.8M194.79 408.20v1.8M230.63 408.20v1.8M266.46 408.20v1.8" stroke="#222" stroke-width="0.5" fill="none"/>
<text class="l" x="192.50" y="429.20">Grad-CAM</text>
<g transform="translate(292.50,296.50) scale(0.7167,0.7160)" clip-path="url(#cp22)">
<filter id="sfg2" filterUnits="userSpaceOnUse" x="0" y="0" width="156" height="156" color-interpolation-filters="sRGB"><feTurbulence type="fractalNoise" baseFrequency="0.12 0.12" numOctaves="4" seed="13" result="n"/><feColorMatrix in="n" type="matrix" values="1 0 0 0 0 1 0 0 0 0 1 0 0 0 0 0 0 0 0 1" result="ng"/><feGaussianBlur in="SourceGraphic" stdDeviation="3.4"/><feComponentTransfer result="e"><feFuncR type="gamma" exponent="1.05"/><feFuncG type="gamma" exponent="1.05"/><feFuncB type="gamma" exponent="1.05"/></feComponentTransfer><feComposite in="e" in2="ng" operator="arithmetic" k1="4.000" k2="-1.160" k3="0" k4="0" result="o"/><feComponentTransfer in="o"><feFuncR type="linear" slope="0.700" intercept="-0.084"/><feFuncG type="linear" slope="0.700" intercept="-0.084"/><feFuncB type="linear" slope="0.700" intercept="-0.084"/></feComponentTransfer><feColorMatrix type="matrix" values="-0.4 0 0 0 0.4  0 0.5 0 0 0.4  0 0 -0.15 0 0.4  0 0 0 0 1"/></filter><g filter="url(#sfg2)"><rect x="-30" y="-30" width="216" height="216" fill="rgb(5,5,5)"/><rect x="-8.7" y="37.8" width="172.7" height="117.6" fill="rgb(31,31,31)"/><rect x="-8.7" y="18.6" width="172.7" height="19.2" fill="rgb(33,33,33)"/><rect x="-8.7" y="0.1" width="172.7" height="18.5" fill="rgb(18,18,18)"/><ellipse cx="48.1" cy="53.7" rx="22.9" ry="11.5" fill="rgb(204,204,204)"/><ellipse cx="120.2" cy="57.4" rx="17.4" ry="13.7" fill="rgb(191,191,191)"/><ellipse cx="37.0" cy="144.3" rx="22.9" ry="10.4" fill="rgb(217,217,217)"/><ellipse cx="125.8" cy="107.3" rx="11.8" ry="11.8" fill="rgb(204,204,204)"/><ellipse cx="31.5" cy="102.5" rx="13.7" ry="9.2" fill="rgb(204,204,204)"/><ellipse cx="57.4" cy="100.6" rx="13.7" ry="7.4" fill="rgb(204,204,204)"/><ellipse cx="9.3" cy="136.9" rx="6.3" ry="15.5" fill="rgb(89,89,89)"/><ellipse cx="37.0" cy="145.0" rx="11.8" ry="7.4" fill="rgb(255,255,255)"/><ellipse cx="57.4" cy="86.6" rx="10.0" ry="8.1" fill="rgb(230,230,230)"/><ellipse cx="146.1" cy="143.1" rx="8.5" ry="9.2" fill="rgb(153,153,153)"/><ellipse cx="44.4" cy="52.6" rx="11.8" ry="5.2" fill="rgb(255,255,255)"/><ellipse cx="85.1" cy="95.1" rx="15.5" ry="3.3" fill="rgb(128,128,128)"/><ellipse cx="59.2" cy="113.6" rx="8.1" ry="5.5" fill="rgb(153,153,153)"/><ellipse cx="16.7" cy="55.5" rx="10.0" ry="4.4" fill="rgb(128,128,128)"/><ellipse cx="85.8" cy="145.4" rx="7.4" ry="5.5" fill="rgb(178,178,178)"/><ellipse cx="114.7" cy="51.8" rx="8.1" ry="4.4" fill="rgb(255,255,255)"/><ellipse cx="149.8" cy="95.1" rx="6.3" ry="5.5" fill="rgb(204,204,204)"/><ellipse cx="127.6" cy="64.4" rx="6.3" ry="4.4" fill="rgb(242,242,242)"/><ellipse cx="50.0" cy="129.5" rx="6.3" ry="4.4" fill="rgb(128,128,128)"/><ellipse cx="56.6" cy="86.6" rx="5.5" ry="4.4" fill="rgb(255,255,255)"/><ellipse cx="125.8" cy="103.6" rx="4.4" ry="4.4" fill="rgb(255,255,255)"/><ellipse cx="151.6" cy="55.5" rx="4.4" ry="4.4" fill="rgb(102,102,102)"/><ellipse cx="64.8" cy="148.7" rx="4.8" ry="3.7" fill="rgb(230,230,230)"/><ellipse cx="149.8" cy="109.1" rx="4.8" ry="2.6" fill="rgb(128,128,128)"/><ellipse cx="105.4" cy="137.2" rx="3.3" ry="2.6" fill="rgb(102,102,102)"/></g><g filter="url(#hb2)"><ellipse cx="36.0" cy="51.8" rx="3.0" ry="2.5" fill="#00e63c" fill-opacity="0.64"/><ellipse cx="45.3" cy="53.7" rx="3.0" ry="2.5" fill="#00e63c" fill-opacity="0.68"/><ellipse cx="63.8" cy="51.8" rx="3.0" ry="2.5" fill="#00e63c" fill-opacity="0.64"/><ellipse cx="54.5" cy="55.5" rx="2.5" ry="2.1" fill="#00e63c" fill-opacity="0.56"/><ellipse cx="113.7" cy="46.3" rx="2.5" ry="2.1" fill="#00e63c" fill-opacity="0.64"/><ellipse cx="115.5" cy="51.8" rx="3.0" ry="2.5" fill="#00e63c" fill-opacity="0.68"/><ellipse cx="128.5" cy="51.8" rx="3.0" ry="2.5" fill="#00e63c" fill-opacity="0.64"/><ellipse cx="124.8" cy="64.8" rx="3.0" ry="3.0" fill="#00e63c" fill-opacity="0.64"/><ellipse cx="56.4" cy="85.1" rx="3.0" ry="2.5" fill="#00e63c" fill-opacity="0.76"/><ellipse cx="58.2" cy="89.5" rx="3.0" ry="2.5" fill="#00e63c" fill-opacity="0.72"/><ellipse cx="26.8" cy="101.7" rx="3.0" ry="2.5" fill="#00e63c" fill-opacity="0.64"/><ellipse cx="37.9" cy="103.6" rx="3.0" ry="2.5" fill="#00e63c" fill-opacity="0.60"/><ellipse cx="65.6" cy="99.9" rx="3.0" ry="2.5" fill="#00e63c" fill-opacity="0.64"/><ellipse cx="52.7" cy="96.2" rx="3.0" ry="2.5" fill="#00e63c" fill-opacity="0.60"/><ellipse cx="86.0" cy="94.3" rx="2.5" ry="1.7" fill="#00e63c" fill-opacity="0.48"/><ellipse cx="126.6" cy="101.7" rx="3.0" ry="3.0" fill="#00e63c" fill-opacity="0.76"/><ellipse cx="124.8" cy="106.5" rx="2.5" ry="2.5" fill="#00e63c" fill-opacity="0.56"/><ellipse cx="150.6" cy="94.3" rx="3.4" ry="2.5" fill="#00e63c" fill-opacity="0.68"/><ellipse cx="119.2" cy="114.7" rx="2.5" ry="2.5" fill="#00e63c" fill-opacity="0.48"/><ellipse cx="43.4" cy="138.7" rx="3.0" ry="2.5" fill="#00e63c" fill-opacity="0.68"/><ellipse cx="34.2" cy="146.1" rx="3.4" ry="2.5" fill="#00e63c" fill-opacity="0.72"/><ellipse cx="26.8" cy="148.5" rx="3.0" ry="2.1" fill="#00e63c" fill-opacity="0.68"/><ellipse cx="65.6" cy="148.5" rx="2.7" ry="2.5" fill="#00e63c" fill-opacity="0.72"/><ellipse cx="86.0" cy="146.1" rx="3.0" ry="3.0" fill="#00e63c" fill-opacity="0.60"/><ellipse cx="145.1" cy="148.0" rx="3.0" ry="2.5" fill="#00e63c" fill-opacity="0.56"/><ellipse cx="41.6" cy="135.0" rx="2.5" ry="2.1" fill="#00e63c" fill-opacity="0.48"/><ellipse cx="50.0" cy="146.0" rx="3.4" ry="2.5" fill="#00e63c" fill-opacity="0.48"/></g>
</g>
<rect x="292.50" y="296.50" width="111.81" height="111.70" fill="none" stroke="#000" stroke-opacity="0.55" stroke-width="0.5"/>
<text class="t" transform="translate(287.00,299.46) scale(0.86,1)" text-anchor="end">0</text>
<text class="t" transform="translate(287.00,313.78) scale(0.86,1)" text-anchor="end">20</text>
<text class="t" transform="translate(287.00,328.10) scale(0.86,1)" text-anchor="end">40</text>
<text class="t" transform="translate(287.00,342.42) scale(0.86,1)" text-anchor="end">60</text>
<text class="t" transform="translate(287.00,356.74) scale(0.86,1)" text-anchor="end">80</text>
<text class="t" transform="translate(287.00,371.06) scale(0.86,1)" text-anchor="end">100</text>
<text class="t" transform="translate(287.00,385.38) scale(0.86,1)" text-anchor="end">120</text>
<text class="t" transform="translate(287.00,399.70) scale(0.86,1)" text-anchor="end">140</text>
<text class="t" transform="translate(292.46,418.20) scale(0.86,1)" text-anchor="middle">0</text>
<text class="t" transform="translate(328.29,418.20) scale(0.86,1)" text-anchor="middle">50</text>
<text class="t" transform="translate(364.13,418.20) scale(0.86,1)" text-anchor="middle">100</text>
<text class="t" transform="translate(399.96,418.20) scale(0.86,1)" text-anchor="middle">150</text>
<path d="M292.50 296.86h-1.8M292.50 311.18h-1.8M292.50 325.50h-1.8M292.50 339.82h-1.8M292.50 354.14h-1.8M292.50 368.46h-1.8M292.50 382.78h-1.8M292.50 397.10h-1.8M292.86 408.20v1.8M328.69 408.20v1.8M364.53 408.20v1.8M400.36 408.20v1.8" stroke="#222" stroke-width="0.5" fill="none"/>
<text class="l" x="309.00" y="429.20">Guided Grad-CAM</text>
<g transform="translate(426.90,296.50) scale(0.7167,0.7160)" clip-path="url(#cp23)">
<filter id="sfs2" filterUnits="userSpaceOnUse" x="0" y="0" width="156" height="156" color-interpolation-filters="sRGB"><feTurbulence type="fractalNoise" baseFrequency="0.12 0.12" numOctaves="4" seed="13" result="n"/><feColorMatrix in="n" type="matrix" values="1 0 0 0 0 1 0 0 0 0 1 0 0 0 0 0 0 0 0 1" result="ng"/><feGaussianBlur in="SourceGraphic" stdDeviation="3.4"/><feComponentTransfer result="e"><feFuncR type="gamma" exponent="1.05"/><feFuncG type="gamma" exponent="1.05"/><feFuncB type="gamma" exponent="1.05"/></feComponentTransfer><feComposite in="e" in2="ng" operator="arithmetic" k1="4.000" k2="-1.160" k3="0" k4="0" result="o"/><feComponentTransfer in="o"><feFuncR type="linear" slope="1.20" intercept="-0.06"/><feFuncG type="linear" slope="1.20" intercept="-0.06"/><feFuncB type="linear" slope="1.20" intercept="-0.06"/></feComponentTransfer></filter><g filter="url(#sfs2)"><rect x="-30" y="-30" width="216" height="216" fill="rgb(5,5,5)"/><rect x="-8.7" y="37.8" width="172.7" height="117.6" fill="rgb(31,31,31)"/><rect x="-8.7" y="18.6" width="172.7" height="19.2" fill="rgb(33,33,33)"/><rect x="-8.7" y="0.1" width="172.7" height="18.5" fill="rgb(18,18,18)"/><ellipse cx="48.1" cy="53.7" rx="22.9" ry="11.5" fill="rgb(204,204,204)"/><ellipse cx="120.2" cy="57.4" rx="17.4" ry="13.7" fill="rgb(191,191,191)"/><ellipse cx="37.0" cy="144.3" rx="22.9" ry="10.4" fill="rgb(217,217,217)"/><ellipse cx="125.8" cy="107.3" rx="11.8" ry="11.8" fill="rgb(204,204,204)"/><ellipse cx="31.5" cy="102.5" rx="13.7" ry="9.2" fill="rgb(204,204,204)"/><ellipse cx="57.4" cy="100.6" rx="13.7" ry="7.4" fill="rgb(204,204,204)"/><ellipse cx="9.3" cy="136.9" rx="6.3" ry="15.5" fill="rgb(89,89,89)"/><ellipse cx="37.0" cy="145.0" rx="11.8" ry="7.4" fill="rgb(255,255,255)"/><ellipse cx="57.4" cy="86.6" rx="10.0" ry="8.1" fill="rgb(230,230,230)"/><ellipse cx="146.1" cy="143.1" rx="8.5" ry="9.2" fill="rgb(153,153,153)"/><ellipse cx="44.4" cy="52.6" rx="11.8" ry="5.2" fill="rgb(255,255,255)"/><ellipse cx="85.1" cy="95.1" rx="15.5" ry="3.3" fill="rgb(128,128,128)"/><ellipse cx="59.2" cy="113.6" rx="8.1" ry="5.5" fill="rgb(153,153,153)"/><ellipse cx="16.7" cy="55.5" rx="10.0" ry="4.4" fill="rgb(128,128,128)"/><ellipse cx="85.8" cy="145.4" rx="7.4" ry="5.5" fill="rgb(178,178,178)"/><ellipse cx="114.7" cy="51.8" rx="8.1" ry="4.4" fill="rgb(255,255,255)"/><ellipse cx="149.8" cy="95.1" rx="6.3" ry="5.5" fill="rgb(204,204,204)"/><ellipse cx="127.6" cy="64.4" rx="6.3" ry="4.4" fill="rgb(242,242,242)"/><ellipse cx="50.0" cy="129.5" rx="6.3" ry="4.4" fill="rgb(128,128,128)"/><ellipse cx="56.6" cy="86.6" rx="5.5" ry="4.4" fill="rgb(255,255,255)"/><ellipse cx="125.8" cy="103.6" rx="4.4" ry="4.4" fill="rgb(255,255,255)"/><ellipse cx="151.6" cy="55.5" rx="4.4" ry="4.4" fill="rgb(102,102,102)"/><ellipse cx="64.8" cy="148.7" rx="4.8" ry="3.7" fill="rgb(230,230,230)"/><ellipse cx="149.8" cy="109.1" rx="4.8" ry="2.6" fill="rgb(128,128,128)"/><ellipse cx="105.4" cy="137.2" rx="3.3" ry="2.6" fill="rgb(102,102,102)"/></g><filter id="hb2" filterUnits="userSpaceOnUse" x="-10" y="-10" width="176" height="176"><feGaussianBlur stdDeviation="1.2"/></filter><g filter="url(#hb2)"><ellipse cx="36.0" cy="51.8" rx="3.5" ry="3.0" fill="#fff" fill-opacity="0.44"/><ellipse cx="45.3" cy="53.7" rx="3.5" ry="3.0" fill="#fff" fill-opacity="0.47"/><ellipse cx="63.8" cy="51.8" rx="3.5" ry="3.0" fill="#fff" fill-opacity="0.44"/><ellipse cx="54.5" cy="55.5" rx="3.0" ry="2.5" fill="#fff" fill-opacity="0.39"/><ellipse cx="113.7" cy="46.3" rx="3.0" ry="2.5" fill="#fff" fill-opacity="0.44"/><ellipse cx="115.5" cy="51.8" rx="3.5" ry="3.0" fill="#fff" fill-opacity="0.47"/><ellipse cx="128.5" cy="51.8" rx="3.5" ry="3.0" fill="#fff" fill-opacity="0.44"/><ellipse cx="124.8" cy="64.8" rx="3.5" ry="3.5" fill="#fff" fill-opacity="0.44"/><ellipse cx="56.4" cy="85.1" rx="3.5" ry="3.0" fill="#fff" fill-opacity="0.52"/><ellipse cx="58.2" cy="89.5" rx="3.5" ry="3.0" fill="#fff" fill-opacity="0.50"/><ellipse cx="26.8" cy="101.7" rx="3.5" ry="3.0" fill="#fff" fill-opacity="0.44"/><ellipse cx="37.9" cy="103.6" rx="3.5" ry="3.0" fill="#fff" fill-opacity="0.41"/><ellipse cx="65.6" cy="99.9" rx="3.5" ry="3.0" fill="#fff" fill-opacity="0.44"/><ellipse cx="52.7" cy="96.2" rx="3.5" ry="3.0" fill="#fff" fill-opacity="0.41"/><ellipse cx="86.0" cy="94.3" rx="3.0" ry="2.0" fill="#fff" fill-opacity="0.33"/><ellipse cx="126.6" cy="101.7" rx="3.5" ry="3.5" fill="#fff" fill-opacity="0.52"/><ellipse cx="124.8" cy="106.5" rx="3.0" ry="3.0" fill="#fff" fill-opacity="0.39"/><ellipse cx="150.6" cy="94.3" rx="4.0" ry="3.0" fill="#fff" fill-opacity="0.47"/><ellipse cx="119.2" cy="114.7" rx="3.0" ry="3.0" fill="#fff" fill-opacity="0.33"/><ellipse cx="43.4" cy="138.7" rx="3.5" ry="3.0" fill="#fff" fill-opacity="0.47"/><ellipse cx="34.2" cy="146.1" rx="4.0" ry="3.0" fill="#fff" fill-opacity="0.50"/><ellipse cx="26.8" cy="148.5" rx="3.5" ry="2.5" fill="#fff" fill-opacity="0.47"/><ellipse cx="65.6" cy="148.5" rx="3.2" ry="3.0" fill="#fff" fill-opacity="0.50"/><ellipse cx="86.0" cy="146.1" rx="3.5" ry="3.5" fill="#fff" fill-opacity="0.41"/><ellipse cx="145.1" cy="148.0" rx="3.5" ry="3.0" fill="#fff" fill-opacity="0.39"/><ellipse cx="41.6" cy="135.0" rx="3.0" ry="2.5" fill="#fff" fill-opacity="0.33"/><ellipse cx="50.0" cy="146.0" rx="4.0" ry="3.0" fill="#fff" fill-opacity="0.33"/></g><pattern id="gps2" patternUnits="userSpaceOnUse" width="4" height="4"><path d="M0,0H4M0,0V4" stroke="#000" stroke-width="2.0" fill="none"/></pattern><rect width="156" height="156" fill="url(#gps2)" fill-opacity="0.3"/>
</g>
<rect x="426.90" y="296.50" width="111.81" height="111.70" fill="none" stroke="#000" stroke-opacity="0.55" stroke-width="0.5"/>
<text class="t" transform="translate(421.40,299.46) scale(0.86,1)" text-anchor="end">0</text>
<text class="t" transform="translate(421.40,313.78) scale(0.86,1)" text-anchor="end">20</text>
<text class="t" transform="translate(421.40,328.10) scale(0.86,1)" text-anchor="end">40</text>
<text class="t" transform="translate(421.40,342.42) scale(0.86,1)" text-anchor="end">60</text>
<text class="t" transform="translate(421.40,356.74) scale(0.86,1)" text-anchor="end">80</text>
<text class="t" transform="translate(421.40,371.06) scale(0.86,1)" text-anchor="end">100</text>
<text class="t" transform="translate(421.40,385.38) scale(0.86,1)" text-anchor="end">120</text>
<text class="t" transform="translate(421.40,399.70) scale(0.86,1)" text-anchor="end">140</text>
<text class="t" transform="translate(426.86,418.20) scale(0.86,1)" text-anchor="middle">0</text>
<text class="t" transform="translate(462.69,418.20) scale(0.86,1)" text-anchor="middle">50</text>
<text class="t" transform="translate(498.53,418.20) scale(0.86,1)" text-anchor="middle">100</text>
<text class="t" transform="translate(534.36,418.20) scale(0.86,1)" text-anchor="middle">150</text>
<path d="M426.90 296.86h-1.8M426.90 311.18h-1.8M426.90 325.50h-1.8M426.90 339.82h-1.8M426.90 354.14h-1.8M426.90 368.46h-1.8M426.90 382.78h-1.8M426.90 397.10h-1.8M427.26 408.20v1.8M463.09 408.20v1.8M498.93 408.20v1.8M534.76 408.20v1.8" stroke="#222" stroke-width="0.5" fill="none"/>
<text class="l" x="456.00" y="429.20">Saliency Map</text>
</svg></body></html>
